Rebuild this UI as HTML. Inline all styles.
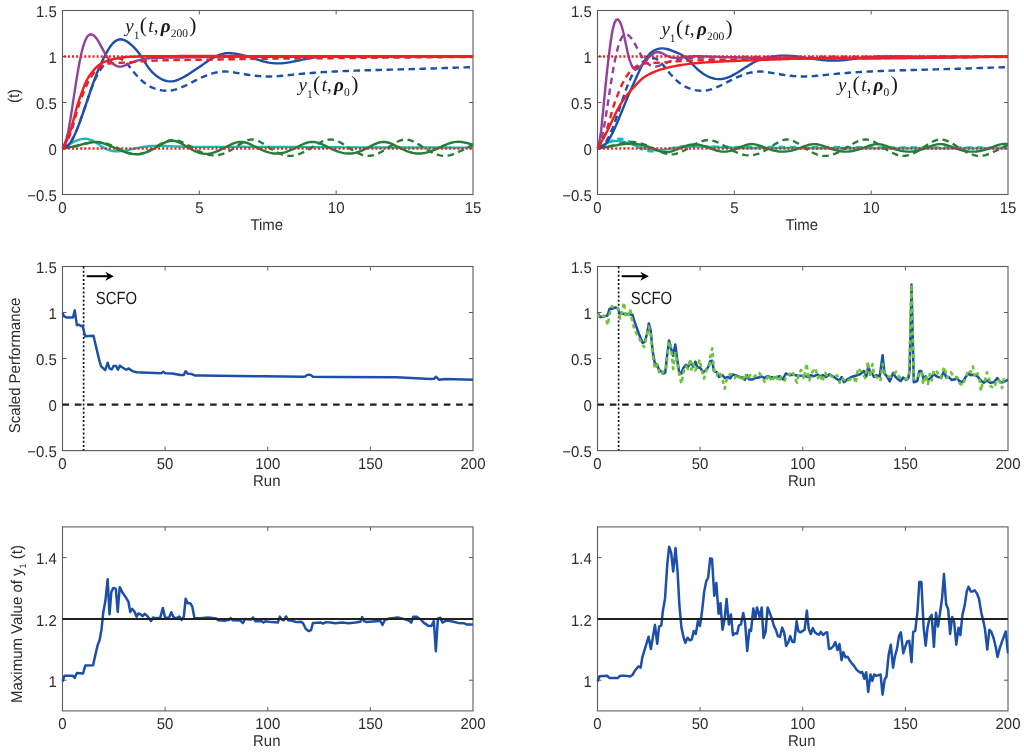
<!DOCTYPE html>
<html lang="en"><head><meta charset="utf-8"><title>Figure</title><style>html,body{margin:0;padding:0;background:#fff}svg{display:block;text-rendering:geometricPrecision}</style></head><body>
<svg width="1024" height="752" viewBox="0 0 1024 752" font-family="'Liberation Sans', sans-serif" font-size="15.6" fill="#332a2a">
<rect width="1024" height="752" fill="#fff"/>
<rect x="62.5" y="10.5" width="410.5" height="184.0" fill="none" stroke="#5e5a5a" stroke-width="1.1"/>
<path d="M199.33 194.5v-4M199.33 10.5v4M336.17 194.5v-4M336.17 10.5v4M62.5 148.50h4M473.0 148.50h-4M62.5 102.50h4M473.0 102.50h-4M62.5 56.50h4M473.0 56.50h-4" stroke="#5e5a5a" stroke-width="1" fill="none"/>
<text transform="translate(62.50 213.0) scale(0.96 1)" text-anchor="middle">0</text>
<text transform="translate(199.33 213.0) scale(0.96 1)" text-anchor="middle">5</text>
<text transform="translate(336.17 213.0) scale(0.96 1)" text-anchor="middle">10</text>
<text transform="translate(473.00 213.0) scale(0.96 1)" text-anchor="middle">15</text>
<text transform="translate(56.8 201.20) scale(0.96 1)" text-anchor="end">−0.5</text>
<text transform="translate(56.8 155.20) scale(0.96 1)" text-anchor="end">0</text>
<text transform="translate(56.8 109.20) scale(0.96 1)" text-anchor="end">0.5</text>
<text transform="translate(56.8 63.20) scale(0.96 1)" text-anchor="end">1</text>
<text transform="translate(56.8 17.20) scale(0.96 1)" text-anchor="end">1.5</text>
<text transform="translate(266.75 229.8) scale(0.96 1)" text-anchor="middle">Time</text>
<clipPath id="c00"><rect x="61.5" y="10.0" width="412.0" height="185.0"/></clipPath><g clip-path="url(#c00)">
<path d="M62.50 148.50 L64.37 147.32 L66.25 146.15 L68.12 145.01 L70.00 143.92 L71.87 142.88 L73.75 141.91 L75.62 141.03 L77.50 140.27 L79.37 139.63 L81.24 139.16 L83.12 138.86 L84.99 138.77 L86.87 138.91 L88.74 139.28 L90.62 139.86 L92.49 140.64 L94.37 141.59 L96.24 142.68 L98.11 143.91 L99.99 145.19 L101.86 146.47 L103.74 147.67 L105.61 148.72 L107.49 149.56 L109.36 150.22 L111.24 150.70 L113.11 151.03 L114.98 151.22 L116.86 151.28 L118.73 151.24 L120.61 151.12 L122.48 150.91 L124.36 150.65 L126.23 150.33 L128.11 149.97 L129.98 149.59 L131.85 149.18 L133.73 148.78 L135.60 148.38 L137.48 147.99 L139.35 147.63 L141.23 147.28 L143.10 146.97 L144.97 146.69 L146.85 146.44 L148.72 146.23 L150.60 146.07 L152.47 145.95 L154.35 145.87 L156.22 145.83 L158.10 145.82 L159.97 145.84 L161.84 145.88 L163.72 145.94 L165.59 146.01 L167.47 146.09 L169.34 146.17 L171.22 146.26 L173.09 146.34 L174.97 146.41 L176.84 146.48 L178.71 146.54 L180.59 146.60 L182.46 146.65 L184.34 146.69 L186.21 146.73 L188.09 146.76 L189.96 146.79 L191.84 146.82 L193.71 146.84 L195.58 146.86 L197.46 146.87 L199.33 146.88 L201.21 146.89 L203.08 146.90 L204.96 146.90 L206.83 146.90 L208.71 146.90 L210.58 146.90 L212.45 146.89 L214.33 146.89 L216.20 146.88 L218.08 146.88 L219.95 146.87 L221.83 146.86 L223.70 146.85 L225.58 146.85 L227.45 146.84 L229.32 146.84 L231.20 146.83 L233.07 146.83 L234.95 146.83 L236.82 146.82 L238.70 146.82 L240.57 146.82 L242.45 146.82 L244.32 146.82 L246.19 146.83 L248.07 146.83 L249.94 146.83 L251.82 146.83 L253.69 146.84 L255.57 146.84 L257.44 146.85 L259.32 146.85 L261.19 146.86 L263.06 146.87 L264.94 146.87 L266.81 146.88 L268.69 146.89 L270.56 146.90 L272.44 146.91 L274.31 146.92 L276.18 146.93 L278.06 146.94 L279.93 146.95 L281.81 146.96 L283.68 146.97 L285.56 146.98 L287.43 146.99 L289.31 147.00 L291.18 147.01 L293.05 147.02 L294.93 147.04 L296.80 147.05 L298.68 147.06 L300.55 147.07 L302.43 147.09 L304.30 147.10 L306.18 147.11 L308.05 147.12 L309.92 147.14 L311.80 147.15 L313.67 147.16 L315.55 147.17 L317.42 147.19 L319.30 147.20 L321.17 147.21 L323.05 147.22 L324.92 147.24 L326.79 147.25 L328.67 147.26 L330.54 147.27 L332.42 147.28 L334.29 147.29 L336.17 147.30 L338.04 147.31 L339.92 147.32 L341.79 147.33 L343.66 147.34 L345.54 147.35 L347.41 147.36 L349.29 147.37 L351.16 147.38 L353.04 147.39 L354.91 147.40 L356.79 147.40 L358.66 147.41 L360.53 147.42 L362.41 147.43 L364.28 147.43 L366.16 147.44 L368.03 147.45 L369.91 147.45 L371.78 147.46 L373.66 147.47 L375.53 147.47 L377.40 147.48 L379.28 147.48 L381.15 147.49 L383.03 147.49 L384.90 147.50 L386.78 147.50 L388.65 147.51 L390.53 147.51 L392.40 147.51 L394.27 147.52 L396.15 147.52 L398.02 147.52 L399.90 147.53 L401.77 147.53 L403.65 147.53 L405.52 147.54 L407.39 147.54 L409.27 147.54 L411.14 147.54 L413.02 147.55 L414.89 147.55 L416.77 147.55 L418.64 147.55 L420.52 147.56 L422.39 147.56 L424.26 147.56 L426.14 147.56 L428.01 147.56 L429.89 147.56 L431.76 147.57 L433.64 147.57 L435.51 147.57 L437.39 147.57 L439.26 147.57 L441.13 147.57 L443.01 147.57 L444.88 147.57 L446.76 147.57 L448.63 147.57 L450.51 147.57 L452.38 147.58 L454.26 147.58 L456.13 147.58 L458.00 147.58 L459.88 147.58 L461.75 147.58 L463.63 147.58 L465.50 147.58 L467.38 147.58 L469.25 147.58 L471.13 147.58 L473.00 147.58" fill="none" stroke="#1bb9b9" stroke-width="2.4" stroke-linejoin="round"/>
<path d="M62.50 148.50 L64.37 148.18 L66.25 147.86 L68.12 147.53 L70.00 147.19 L71.87 146.83 L73.75 146.45 L75.62 146.05 L77.50 145.62 L79.37 145.17 L81.24 144.68 L83.12 144.19 L84.99 143.70 L86.87 143.25 L88.74 142.85 L90.62 142.51 L92.49 142.26 L94.37 142.13 L96.24 142.12 L98.11 142.26 L99.99 142.54 L101.86 142.95 L103.74 143.48 L105.61 144.09 L107.49 144.79 L109.36 145.55 L111.24 146.35 L113.11 147.18 L114.98 148.02 L116.86 148.86 L118.73 149.67 L120.61 150.46 L122.48 151.20 L124.36 151.89 L126.23 152.51 L128.11 153.06 L129.98 153.51 L131.85 153.86 L133.73 154.09 L135.60 154.20 L137.48 154.17 L139.35 154.00 L141.23 153.70 L143.10 153.28 L144.97 152.73 L146.85 152.08 L148.72 151.32 L150.60 150.46 L152.47 149.52 L154.35 148.50 L156.22 147.41 L158.10 146.28 L159.97 145.16 L161.84 144.08 L163.72 143.09 L165.59 142.21 L167.47 141.50 L169.34 140.99 L171.22 140.72 L173.09 140.72 L174.97 140.99 L176.84 141.51 L178.71 142.22 L180.59 143.10 L182.46 144.09 L184.34 145.17 L186.21 146.30 L188.09 147.44 L189.96 148.54 L191.84 149.58 L193.71 150.54 L195.58 151.40 L197.46 152.16 L199.33 152.79 L201.21 153.28 L203.08 153.63 L204.96 153.82 L206.83 153.83 L208.71 153.68 L210.58 153.37 L212.45 152.92 L214.33 152.36 L216.20 151.68 L218.08 150.92 L219.95 150.07 L221.83 149.17 L223.70 148.21 L225.58 147.23 L227.45 146.25 L229.32 145.30 L231.20 144.40 L233.07 143.60 L234.95 142.92 L236.82 142.38 L238.70 142.03 L240.57 141.88 L242.45 141.96 L244.32 142.26 L246.19 142.75 L248.07 143.39 L249.94 144.16 L251.82 145.02 L253.69 145.95 L255.57 146.90 L257.44 147.86 L259.32 148.79 L261.19 149.67 L263.06 150.48 L264.94 151.22 L266.81 151.87 L268.69 152.43 L270.56 152.89 L272.44 153.24 L274.31 153.47 L276.18 153.56 L278.06 153.51 L279.93 153.33 L281.81 153.02 L283.68 152.59 L285.56 152.07 L287.43 151.44 L289.31 150.73 L291.18 149.95 L293.05 149.09 L294.93 148.19 L296.80 147.24 L298.68 146.29 L300.55 145.36 L302.43 144.48 L304.30 143.68 L306.18 142.99 L308.05 142.44 L309.92 142.06 L311.80 141.88 L313.67 141.93 L315.55 142.19 L317.42 142.63 L319.30 143.22 L321.17 143.94 L323.05 144.75 L324.92 145.64 L326.79 146.57 L328.67 147.51 L330.54 148.43 L332.42 149.31 L334.29 150.13 L336.17 150.89 L338.04 151.58 L339.92 152.18 L341.79 152.68 L343.66 153.08 L345.54 153.37 L347.41 153.53 L349.29 153.56 L351.16 153.44 L353.04 153.20 L354.91 152.83 L356.79 152.35 L358.66 151.76 L360.53 151.08 L362.41 150.32 L364.28 149.47 L366.16 148.56 L368.03 147.59 L369.91 146.59 L371.78 145.61 L373.66 144.67 L375.53 143.81 L377.40 143.07 L379.28 142.48 L381.15 142.07 L383.03 141.88 L384.90 141.94 L386.78 142.24 L388.65 142.72 L390.53 143.38 L392.40 144.16 L394.27 145.04 L396.15 145.98 L398.02 146.96 L399.90 147.93 L401.77 148.87 L403.65 149.74 L405.52 150.55 L407.39 151.28 L409.27 151.93 L411.14 152.48 L413.02 152.93 L414.89 153.26 L416.77 153.47 L418.64 153.56 L420.52 153.51 L422.39 153.33 L424.26 153.03 L426.14 152.62 L428.01 152.11 L429.89 151.52 L431.76 150.86 L433.64 150.13 L435.51 149.34 L437.39 148.52 L439.26 147.66 L441.13 146.79 L443.01 145.93 L444.88 145.10 L446.76 144.32 L448.63 143.60 L450.51 142.98 L452.38 142.46 L454.26 142.08 L456.13 141.84 L458.00 141.76 L459.88 141.83 L461.75 142.02 L463.63 142.32 L465.50 142.72 L467.38 143.18 L469.25 143.70 L471.13 144.25 L473.00 144.82" fill="none" stroke="#267d37" stroke-width="2.4" stroke-linejoin="round"/>
<path d="M62.50 148.50 L64.37 148.17 L66.25 147.84 L68.12 147.50 L70.00 147.15 L71.87 146.79 L73.75 146.42 L75.62 146.03 L77.50 145.61 L79.37 145.17 L81.24 144.71 L83.12 144.24 L84.99 143.78 L86.87 143.35 L88.74 142.95 L90.62 142.60 L92.49 142.33 L94.37 142.13 L96.24 142.04 L98.11 142.06 L99.99 142.21 L101.86 142.47 L103.74 142.85 L105.61 143.32 L107.49 143.89 L109.36 144.53 L111.24 145.24 L113.11 146.01 L114.98 146.82 L116.86 147.68 L118.73 148.56 L120.61 149.46 L122.48 150.35 L124.36 151.21 L126.23 152.02 L128.11 152.75 L129.98 153.37 L131.85 153.86 L133.73 154.21 L135.60 154.38 L137.48 154.35 L139.35 154.12 L141.23 153.71 L143.10 153.15 L144.97 152.45 L146.85 151.64 L148.72 150.72 L150.60 149.74 L152.47 148.69 L154.35 147.61 L156.22 146.52 L158.10 145.44 L159.97 144.40 L161.84 143.41 L163.72 142.51 L165.59 141.71 L167.47 141.04 L169.34 140.52 L171.22 140.18 L173.09 140.04 L174.97 140.11 L176.84 140.40 L178.71 140.88 L180.59 141.51 L182.46 142.29 L184.34 143.17 L186.21 144.14 L188.09 145.18 L189.96 146.25 L191.84 147.34 L193.71 148.42 L195.58 149.46 L197.46 150.45 L199.33 151.38 L201.21 152.24 L203.08 153.02 L204.96 153.71 L206.83 154.30 L208.71 154.77 L210.58 155.12 L212.45 155.33 L214.33 155.40 L216.20 155.31 L218.08 155.08 L219.95 154.70 L221.83 154.19 L223.70 153.55 L225.58 152.80 L227.45 151.94 L229.32 150.98 L231.20 149.93 L233.07 148.80 L234.95 147.59 L236.82 146.34 L238.70 145.08 L240.57 143.86 L242.45 142.72 L244.32 141.69 L246.19 140.81 L248.07 140.12 L249.94 139.67 L251.82 139.48 L253.69 139.60 L255.57 139.99 L257.44 140.62 L259.32 141.45 L261.19 142.44 L263.06 143.56 L264.94 144.77 L266.81 146.03 L268.69 147.30 L270.56 148.55 L272.44 149.74 L274.31 150.86 L276.18 151.90 L278.06 152.85 L279.93 153.69 L281.81 154.41 L283.68 155.00 L285.56 155.45 L287.43 155.75 L289.31 155.88 L291.18 155.84 L293.05 155.65 L294.93 155.31 L296.80 154.83 L298.68 154.23 L300.55 153.51 L302.43 152.69 L304.30 151.79 L306.18 150.80 L308.05 149.75 L309.92 148.65 L311.80 147.50 L313.67 146.33 L315.55 145.17 L317.42 144.05 L319.30 142.99 L321.17 142.02 L323.05 141.16 L324.92 140.45 L326.79 139.92 L328.67 139.58 L330.54 139.46 L332.42 139.60 L334.29 139.98 L336.17 140.57 L338.04 141.35 L339.92 142.28 L341.79 143.33 L343.66 144.47 L345.54 145.67 L347.41 146.90 L349.29 148.14 L351.16 149.34 L353.04 150.49 L354.91 151.57 L356.79 152.56 L358.66 153.46 L360.53 154.24 L362.41 154.88 L364.28 155.38 L366.16 155.71 L368.03 155.86 L369.91 155.81 L371.78 155.56 L373.66 155.14 L375.53 154.54 L377.40 153.81 L379.28 152.94 L381.15 151.96 L383.03 150.88 L384.90 149.73 L386.78 148.51 L388.65 147.26 L390.53 145.99 L392.40 144.75 L394.27 143.56 L396.15 142.46 L398.02 141.49 L399.90 140.67 L401.77 140.04 L403.65 139.63 L405.52 139.47 L407.39 139.59 L409.27 139.96 L411.14 140.53 L413.02 141.29 L414.89 142.20 L416.77 143.24 L418.64 144.36 L420.52 145.54 L422.39 146.75 L424.26 147.96 L426.14 149.14 L428.01 150.27 L429.89 151.32 L431.76 152.30 L433.64 153.19 L435.51 153.97 L437.39 154.64 L439.26 155.18 L441.13 155.58 L443.01 155.83 L444.88 155.91 L446.76 155.81 L448.63 155.53 L450.51 155.10 L452.38 154.52 L454.26 153.83 L456.13 153.05 L458.00 152.19 L459.88 151.27 L461.75 150.32 L463.63 149.37 L465.50 148.42 L467.38 147.49 L469.25 146.59 L471.13 145.70 L473.00 144.82" fill="none" stroke="#267d37" stroke-width="2.4" stroke-linejoin="round" stroke-dasharray="6.5 4.5"/>
<path d="M62.50 148.50 L64.37 147.92 L66.25 147.05 L68.12 145.60 L70.00 143.35 L71.87 140.36 L73.75 136.76 L75.62 132.64 L77.50 128.09 L79.37 123.20 L81.24 118.03 L83.12 112.67 L84.99 107.19 L86.87 101.66 L88.74 96.17 L90.62 90.83 L92.49 85.77 L94.37 81.09 L96.24 76.92 L98.11 73.32 L99.99 70.26 L101.86 67.67 L103.74 65.50 L105.61 63.69 L107.49 62.20 L109.36 60.98 L111.24 59.97 L113.11 59.14 L114.98 58.52 L116.86 58.19 L118.73 58.22 L120.61 58.69 L122.48 59.63 L124.36 61.01 L126.23 62.84 L128.11 65.01 L129.98 67.37 L131.85 69.76 L133.73 72.05 L135.60 74.24 L137.48 76.31 L139.35 78.26 L141.23 80.08 L143.10 81.74 L144.97 83.25 L146.85 84.60 L148.72 85.77 L150.60 86.79 L152.47 87.66 L154.35 88.40 L156.22 89.04 L158.10 89.57 L159.97 90.02 L161.84 90.39 L163.72 90.65 L165.59 90.80 L167.47 90.83 L169.34 90.72 L171.22 90.48 L173.09 90.13 L174.97 89.67 L176.84 89.11 L178.71 88.46 L180.59 87.73 L182.46 86.94 L184.34 86.10 L186.21 85.21 L188.09 84.28 L189.96 83.33 L191.84 82.37 L193.71 81.40 L195.58 80.43 L197.46 79.49 L199.33 78.57 L201.21 77.68 L203.08 76.84 L204.96 76.04 L206.83 75.30 L208.71 74.60 L210.58 73.97 L212.45 73.40 L214.33 72.90 L216.20 72.47 L218.08 72.12 L219.95 71.85 L221.83 71.66 L223.70 71.57 L225.58 71.57 L227.45 71.65 L229.32 71.80 L231.20 72.01 L233.07 72.27 L234.95 72.57 L236.82 72.89 L238.70 73.22 L240.57 73.55 L242.45 73.88 L244.32 74.20 L246.19 74.51 L248.07 74.80 L249.94 75.07 L251.82 75.33 L253.69 75.57 L255.57 75.78 L257.44 75.97 L259.32 76.14 L261.19 76.27 L263.06 76.38 L264.94 76.45 L266.81 76.48 L268.69 76.49 L270.56 76.46 L272.44 76.40 L274.31 76.32 L276.18 76.22 L278.06 76.09 L279.93 75.95 L281.81 75.79 L283.68 75.62 L285.56 75.43 L287.43 75.24 L289.31 75.05 L291.18 74.85 L293.05 74.65 L294.93 74.46 L296.80 74.27 L298.68 74.09 L300.55 73.91 L302.43 73.74 L304.30 73.57 L306.18 73.41 L308.05 73.25 L309.92 73.10 L311.80 72.95 L313.67 72.81 L315.55 72.67 L317.42 72.54 L319.30 72.41 L321.17 72.29 L323.05 72.17 L324.92 72.05 L326.79 71.94 L328.67 71.83 L330.54 71.72 L332.42 71.62 L334.29 71.53 L336.17 71.43 L338.04 71.34 L339.92 71.25 L341.79 71.17 L343.66 71.08 L345.54 71.01 L347.41 70.93 L349.29 70.85 L351.16 70.78 L353.04 70.71 L354.91 70.65 L356.79 70.58 L358.66 70.52 L360.53 70.46 L362.41 70.40 L364.28 70.34 L366.16 70.28 L368.03 70.23 L369.91 70.18 L371.78 70.12 L373.66 70.07 L375.53 70.02 L377.40 69.97 L379.28 69.93 L381.15 69.88 L383.03 69.83 L384.90 69.78 L386.78 69.74 L388.65 69.69 L390.53 69.64 L392.40 69.60 L394.27 69.55 L396.15 69.50 L398.02 69.46 L399.90 69.41 L401.77 69.36 L403.65 69.31 L405.52 69.26 L407.39 69.21 L409.27 69.16 L411.14 69.11 L413.02 69.06 L414.89 69.00 L416.77 68.95 L418.64 68.89 L420.52 68.84 L422.39 68.78 L424.26 68.72 L426.14 68.66 L428.01 68.60 L429.89 68.55 L431.76 68.49 L433.64 68.43 L435.51 68.36 L437.39 68.30 L439.26 68.24 L441.13 68.18 L443.01 68.12 L444.88 68.05 L446.76 67.99 L448.63 67.93 L450.51 67.86 L452.38 67.80 L454.26 67.73 L456.13 67.67 L458.00 67.60 L459.88 67.54 L461.75 67.47 L463.63 67.41 L465.50 67.34 L467.38 67.28 L469.25 67.21 L471.13 67.15 L473.00 67.08" fill="none" stroke="#1c50a8" stroke-width="2.4" stroke-linejoin="round" stroke-dasharray="6.5 4.5"/>
<path d="M62.50 148.50 L64.37 147.92 L66.25 147.05 L68.12 145.59 L70.00 143.34 L71.87 140.36 L73.75 136.75 L75.62 132.65 L77.50 128.13 L79.37 123.26 L81.24 118.11 L83.12 112.75 L84.99 107.24 L86.87 101.65 L88.74 96.04 L90.62 90.49 L92.49 85.08 L94.37 79.86 L96.24 74.91 L98.11 70.28 L99.99 65.95 L101.86 61.87 L103.74 58.02 L105.61 54.38 L107.49 50.96 L109.36 47.88 L111.24 45.20 L113.11 43.02 L114.98 41.36 L116.86 40.19 L118.73 39.51 L120.61 39.29 L122.48 39.52 L124.36 40.13 L126.23 41.08 L128.11 42.30 L129.98 43.75 L131.85 45.37 L133.73 47.13 L135.60 49.09 L137.48 51.26 L139.35 53.67 L141.23 56.36 L143.10 59.33 L144.97 62.39 L146.85 65.33 L148.72 67.97 L150.60 70.30 L152.47 72.35 L154.35 74.14 L156.22 75.71 L158.10 77.07 L159.97 78.26 L161.84 79.28 L163.72 80.11 L165.59 80.74 L167.47 81.18 L169.34 81.41 L171.22 81.42 L173.09 81.21 L174.97 80.81 L176.84 80.24 L178.71 79.52 L180.59 78.68 L182.46 77.73 L184.34 76.71 L186.21 75.63 L188.09 74.50 L189.96 73.32 L191.84 72.11 L193.71 70.87 L195.58 69.60 L197.46 68.31 L199.33 67.00 L201.21 65.69 L203.08 64.38 L204.96 63.08 L206.83 61.81 L208.71 60.57 L210.58 59.39 L212.45 58.27 L214.33 57.23 L216.20 56.28 L218.08 55.43 L219.95 54.69 L221.83 54.08 L223.70 53.60 L225.58 53.26 L227.45 53.08 L229.32 53.06 L231.20 53.18 L233.07 53.40 L234.95 53.70 L236.82 54.04 L238.70 54.41 L240.57 54.78 L242.45 55.18 L244.32 55.61 L246.19 56.07 L248.07 56.58 L249.94 57.14 L251.82 57.74 L253.69 58.36 L255.57 58.99 L257.44 59.61 L259.32 60.21 L261.19 60.79 L263.06 61.31 L264.94 61.79 L266.81 62.20 L268.69 62.56 L270.56 62.86 L272.44 63.09 L274.31 63.27 L276.18 63.37 L278.06 63.41 L279.93 63.38 L281.81 63.28 L283.68 63.13 L285.56 62.91 L287.43 62.65 L289.31 62.35 L291.18 62.01 L293.05 61.65 L294.93 61.27 L296.80 60.87 L298.68 60.46 L300.55 60.05 L302.43 59.65 L304.30 59.25 L306.18 58.87 L308.05 58.50 L309.92 58.16 L311.80 57.85 L313.67 57.57 L315.55 57.33 L317.42 57.13 L319.30 56.97 L321.17 56.84 L323.05 56.74 L324.92 56.66 L326.79 56.59 L328.67 56.54 L330.54 56.50 L332.42 56.47 L334.29 56.44 L336.17 56.41 L338.04 56.39 L339.92 56.37 L341.79 56.35 L343.66 56.34 L345.54 56.33 L347.41 56.32 L349.29 56.32 L351.16 56.31 L353.04 56.31 L354.91 56.31 L356.79 56.31 L358.66 56.31 L360.53 56.31 L362.41 56.31 L364.28 56.32 L366.16 56.32 L368.03 56.32 L369.91 56.33 L371.78 56.33 L373.66 56.33 L375.53 56.33 L377.40 56.34 L379.28 56.34 L381.15 56.34 L383.03 56.34 L384.90 56.35 L386.78 56.35 L388.65 56.35 L390.53 56.36 L392.40 56.36 L394.27 56.36 L396.15 56.37 L398.02 56.37 L399.90 56.37 L401.77 56.37 L403.65 56.38 L405.52 56.38 L407.39 56.38 L409.27 56.39 L411.14 56.39 L413.02 56.39 L414.89 56.40 L416.77 56.40 L418.64 56.40 L420.52 56.41 L422.39 56.41 L424.26 56.41 L426.14 56.42 L428.01 56.42 L429.89 56.42 L431.76 56.43 L433.64 56.43 L435.51 56.43 L437.39 56.44 L439.26 56.44 L441.13 56.44 L443.01 56.45 L444.88 56.45 L446.76 56.45 L448.63 56.46 L450.51 56.46 L452.38 56.46 L454.26 56.47 L456.13 56.47 L458.00 56.47 L459.88 56.48 L461.75 56.48 L463.63 56.48 L465.50 56.49 L467.38 56.49 L469.25 56.49 L471.13 56.50 L473.00 56.50" fill="none" stroke="#1c50a8" stroke-width="2.4" stroke-linejoin="round"/>
<path d="M62.50 148.50 L64.37 144.57 L66.25 139.44 L68.12 131.93 L70.00 121.74 L71.87 109.87 L73.75 97.40 L75.62 85.14 L77.50 73.53 L79.37 63.01 L81.24 54.00 L83.12 46.68 L84.99 41.12 L86.87 37.32 L88.74 35.09 L90.62 34.25 L92.49 34.60 L94.37 35.96 L96.24 38.13 L98.11 40.92 L99.99 44.15 L101.86 47.62 L103.74 51.13 L105.61 54.49 L107.49 57.50 L109.36 60.04 L111.24 62.15 L113.11 63.85 L114.98 65.15 L116.86 66.05 L118.73 66.54 L120.61 66.60 L122.48 66.25 L124.36 65.61 L126.23 64.82 L128.11 64.00 L129.98 63.24 L131.85 62.53 L133.73 61.87 L135.60 61.25 L137.48 60.68 L139.35 60.15 L141.23 59.66 L143.10 59.22 L144.97 58.84 L146.85 58.51 L148.72 58.26 L150.60 58.07 L152.47 57.93 L154.35 57.83 L156.22 57.77 L158.10 57.73 L159.97 57.71 L161.84 57.70 L163.72 57.69 L165.59 57.67 L167.47 57.65 L169.34 57.63 L171.22 57.61 L173.09 57.58 L174.97 57.55 L176.84 57.53 L178.71 57.49 L180.59 57.46 L182.46 57.43 L184.34 57.40 L186.21 57.36 L188.09 57.33 L189.96 57.30 L191.84 57.26 L193.71 57.23 L195.58 57.20 L197.46 57.17 L199.33 57.14 L201.21 57.12 L203.08 57.09 L204.96 57.07 L206.83 57.05 L208.71 57.03 L210.58 57.01 L212.45 57.00 L214.33 56.98 L216.20 56.97 L218.08 56.96 L219.95 56.95 L221.83 56.94 L223.70 56.93 L225.58 56.92 L227.45 56.91 L229.32 56.91 L231.20 56.90 L233.07 56.90 L234.95 56.89 L236.82 56.89 L238.70 56.89 L240.57 56.88 L242.45 56.88 L244.32 56.88 L246.19 56.88 L248.07 56.87 L249.94 56.87 L251.82 56.87 L253.69 56.87 L255.57 56.87 L257.44 56.86 L259.32 56.86 L261.19 56.86 L263.06 56.86 L264.94 56.85 L266.81 56.85 L268.69 56.85 L270.56 56.84 L272.44 56.84 L274.31 56.84 L276.18 56.83 L278.06 56.83 L279.93 56.82 L281.81 56.82 L283.68 56.82 L285.56 56.81 L287.43 56.81 L289.31 56.80 L291.18 56.80 L293.05 56.79 L294.93 56.79 L296.80 56.78 L298.68 56.78 L300.55 56.78 L302.43 56.77 L304.30 56.77 L306.18 56.76 L308.05 56.76 L309.92 56.75 L311.80 56.75 L313.67 56.74 L315.55 56.74 L317.42 56.73 L319.30 56.73 L321.17 56.72 L323.05 56.72 L324.92 56.71 L326.79 56.71 L328.67 56.70 L330.54 56.70 L332.42 56.69 L334.29 56.69 L336.17 56.68 L338.04 56.68 L339.92 56.68 L341.79 56.67 L343.66 56.67 L345.54 56.66 L347.41 56.66 L349.29 56.65 L351.16 56.65 L353.04 56.65 L354.91 56.64 L356.79 56.64 L358.66 56.64 L360.53 56.63 L362.41 56.63 L364.28 56.63 L366.16 56.62 L368.03 56.62 L369.91 56.62 L371.78 56.61 L373.66 56.61 L375.53 56.61 L377.40 56.60 L379.28 56.60 L381.15 56.60 L383.03 56.60 L384.90 56.59 L386.78 56.59 L388.65 56.59 L390.53 56.58 L392.40 56.58 L394.27 56.58 L396.15 56.58 L398.02 56.57 L399.90 56.57 L401.77 56.57 L403.65 56.57 L405.52 56.56 L407.39 56.56 L409.27 56.56 L411.14 56.56 L413.02 56.56 L414.89 56.55 L416.77 56.55 L418.64 56.55 L420.52 56.55 L422.39 56.55 L424.26 56.54 L426.14 56.54 L428.01 56.54 L429.89 56.54 L431.76 56.54 L433.64 56.53 L435.51 56.53 L437.39 56.53 L439.26 56.53 L441.13 56.53 L443.01 56.53 L444.88 56.52 L446.76 56.52 L448.63 56.52 L450.51 56.52 L452.38 56.52 L454.26 56.52 L456.13 56.51 L458.00 56.51 L459.88 56.51 L461.75 56.51 L463.63 56.51 L465.50 56.51 L467.38 56.50 L469.25 56.50 L471.13 56.50 L473.00 56.50" fill="none" stroke="#93409a" stroke-width="2.4" stroke-linejoin="round"/>
<path d="M62.50 148.50 L64.37 145.93 L66.25 142.73 L68.12 138.99 L70.00 134.81 L71.87 129.56 L73.75 123.15 L75.62 116.23 L77.50 109.47 L79.37 103.52 L81.24 98.51 L83.12 93.68 L84.99 89.07 L86.87 84.79 L88.74 80.94 L90.62 77.60 L92.49 74.83 L94.37 72.40 L96.24 70.27 L98.11 68.52 L99.99 67.19 L101.86 66.05 L103.74 65.04 L105.61 64.25 L107.49 63.75 L109.36 63.50 L111.24 63.32 L113.11 63.18 L114.98 63.07 L116.86 62.96 L118.73 62.86 L120.61 62.78 L122.48 62.70 L124.36 62.63 L126.23 62.54 L128.11 62.43 L129.98 62.28 L131.85 62.11 L133.73 61.93 L135.60 61.75 L137.48 61.60 L139.35 61.47 L141.23 61.36 L143.10 61.24 L144.97 61.13 L146.85 61.02 L148.72 60.92 L150.60 60.82 L152.47 60.73 L154.35 60.64 L156.22 60.57 L158.10 60.50 L159.97 60.43 L161.84 60.38 L163.72 60.33 L165.59 60.29 L167.47 60.25 L169.34 60.21 L171.22 60.17 L173.09 60.14 L174.97 60.10 L176.84 60.07 L178.71 60.04 L180.59 60.01 L182.46 59.99 L184.34 59.96 L186.21 59.94 L188.09 59.91 L189.96 59.89 L191.84 59.87 L193.71 59.84 L195.58 59.82 L197.46 59.79 L199.33 59.77 L201.21 59.75 L203.08 59.72 L204.96 59.69 L206.83 59.67 L208.71 59.64 L210.58 59.61 L212.45 59.58 L214.33 59.55 L216.20 59.52 L218.08 59.49 L219.95 59.46 L221.83 59.42 L223.70 59.39 L225.58 59.36 L227.45 59.33 L229.32 59.29 L231.20 59.26 L233.07 59.23 L234.95 59.19 L236.82 59.16 L238.70 59.13 L240.57 59.10 L242.45 59.07 L244.32 59.04 L246.19 59.01 L248.07 58.98 L249.94 58.95 L251.82 58.92 L253.69 58.89 L255.57 58.86 L257.44 58.84 L259.32 58.81 L261.19 58.79 L263.06 58.76 L264.94 58.74 L266.81 58.72 L268.69 58.70 L270.56 58.68 L272.44 58.66 L274.31 58.64 L276.18 58.62 L278.06 58.61 L279.93 58.59 L281.81 58.57 L283.68 58.56 L285.56 58.54 L287.43 58.53 L289.31 58.51 L291.18 58.50 L293.05 58.48 L294.93 58.47 L296.80 58.45 L298.68 58.44 L300.55 58.43 L302.43 58.41 L304.30 58.40 L306.18 58.39 L308.05 58.37 L309.92 58.36 L311.80 58.35 L313.67 58.33 L315.55 58.32 L317.42 58.31 L319.30 58.29 L321.17 58.28 L323.05 58.26 L324.92 58.25 L326.79 58.24 L328.67 58.22 L330.54 58.20 L332.42 58.19 L334.29 58.17 L336.17 58.16 L338.04 58.14 L339.92 58.12 L341.79 58.10 L343.66 58.09 L345.54 58.07 L347.41 58.05 L349.29 58.03 L351.16 58.01 L353.04 57.99 L354.91 57.97 L356.79 57.95 L358.66 57.93 L360.53 57.91 L362.41 57.89 L364.28 57.87 L366.16 57.85 L368.03 57.83 L369.91 57.81 L371.78 57.79 L373.66 57.77 L375.53 57.75 L377.40 57.73 L379.28 57.71 L381.15 57.70 L383.03 57.68 L384.90 57.66 L386.78 57.64 L388.65 57.62 L390.53 57.61 L392.40 57.59 L394.27 57.57 L396.15 57.56 L398.02 57.54 L399.90 57.52 L401.77 57.51 L403.65 57.49 L405.52 57.48 L407.39 57.46 L409.27 57.44 L411.14 57.43 L413.02 57.41 L414.89 57.40 L416.77 57.38 L418.64 57.37 L420.52 57.35 L422.39 57.33 L424.26 57.32 L426.14 57.30 L428.01 57.29 L429.89 57.27 L431.76 57.26 L433.64 57.24 L435.51 57.23 L437.39 57.21 L439.26 57.20 L441.13 57.19 L443.01 57.17 L444.88 57.16 L446.76 57.14 L448.63 57.13 L450.51 57.12 L452.38 57.10 L454.26 57.09 L456.13 57.08 L458.00 57.06 L459.88 57.05 L461.75 57.04 L463.63 57.02 L465.50 57.01 L467.38 57.00 L469.25 56.98 L471.13 56.97 L473.00 56.96" fill="none" stroke="#ed2024" stroke-width="2.4" stroke-linejoin="round" stroke-dasharray="6.5 4.5"/>
<path d="M62.50 148.50 L64.37 145.42 L66.25 141.65 L68.12 137.32 L70.00 132.42 L71.87 126.15 L73.75 118.92 L75.62 111.54 L77.50 104.77 L79.37 99.15 L81.24 93.79 L83.12 88.70 L84.99 84.05 L86.87 80.02 L88.74 76.78 L90.62 74.12 L92.49 71.66 L94.37 69.43 L96.24 67.44 L98.11 65.71 L99.99 64.26 L101.86 63.10 L103.74 62.19 L105.61 61.39 L107.49 60.68 L109.36 60.07 L111.24 59.54 L113.11 59.09 L114.98 58.71 L116.86 58.36 L118.73 58.04 L120.61 57.75 L122.48 57.49 L124.36 57.27 L126.23 57.10 L128.11 56.96 L129.98 56.86 L131.85 56.77 L133.73 56.68 L135.60 56.59 L137.48 56.52 L139.35 56.45 L141.23 56.39 L143.10 56.34 L144.97 56.30 L146.85 56.26 L148.72 56.24 L150.60 56.22 L152.47 56.21 L154.35 56.19 L156.22 56.18 L158.10 56.17 L159.97 56.16 L161.84 56.15 L163.72 56.14 L165.59 56.13 L167.47 56.12 L169.34 56.11 L171.22 56.10 L173.09 56.09 L174.97 56.08 L176.84 56.08 L178.71 56.07 L180.59 56.07 L182.46 56.06 L184.34 56.06 L186.21 56.05 L188.09 56.05 L189.96 56.05 L191.84 56.04 L193.71 56.04 L195.58 56.04 L197.46 56.04 L199.33 56.04 L201.21 56.04 L203.08 56.04 L204.96 56.04 L206.83 56.04 L208.71 56.04 L210.58 56.04 L212.45 56.04 L214.33 56.04 L216.20 56.04 L218.08 56.05 L219.95 56.05 L221.83 56.05 L223.70 56.05 L225.58 56.05 L227.45 56.05 L229.32 56.05 L231.20 56.06 L233.07 56.06 L234.95 56.06 L236.82 56.06 L238.70 56.06 L240.57 56.07 L242.45 56.07 L244.32 56.07 L246.19 56.07 L248.07 56.08 L249.94 56.08 L251.82 56.08 L253.69 56.08 L255.57 56.09 L257.44 56.09 L259.32 56.09 L261.19 56.09 L263.06 56.10 L264.94 56.10 L266.81 56.10 L268.69 56.11 L270.56 56.11 L272.44 56.11 L274.31 56.12 L276.18 56.12 L278.06 56.12 L279.93 56.12 L281.81 56.13 L283.68 56.13 L285.56 56.13 L287.43 56.14 L289.31 56.14 L291.18 56.14 L293.05 56.15 L294.93 56.15 L296.80 56.15 L298.68 56.16 L300.55 56.16 L302.43 56.17 L304.30 56.17 L306.18 56.17 L308.05 56.18 L309.92 56.18 L311.80 56.18 L313.67 56.19 L315.55 56.19 L317.42 56.19 L319.30 56.20 L321.17 56.20 L323.05 56.20 L324.92 56.21 L326.79 56.21 L328.67 56.21 L330.54 56.21 L332.42 56.22 L334.29 56.22 L336.17 56.22 L338.04 56.23 L339.92 56.23 L341.79 56.23 L343.66 56.24 L345.54 56.24 L347.41 56.24 L349.29 56.25 L351.16 56.25 L353.04 56.25 L354.91 56.26 L356.79 56.26 L358.66 56.26 L360.53 56.27 L362.41 56.27 L364.28 56.27 L366.16 56.28 L368.03 56.28 L369.91 56.28 L371.78 56.29 L373.66 56.29 L375.53 56.29 L377.40 56.30 L379.28 56.30 L381.15 56.30 L383.03 56.31 L384.90 56.31 L386.78 56.31 L388.65 56.32 L390.53 56.32 L392.40 56.32 L394.27 56.33 L396.15 56.33 L398.02 56.34 L399.90 56.34 L401.77 56.34 L403.65 56.35 L405.52 56.35 L407.39 56.36 L409.27 56.36 L411.14 56.36 L413.02 56.37 L414.89 56.37 L416.77 56.37 L418.64 56.38 L420.52 56.38 L422.39 56.39 L424.26 56.39 L426.14 56.39 L428.01 56.40 L429.89 56.40 L431.76 56.41 L433.64 56.41 L435.51 56.41 L437.39 56.42 L439.26 56.42 L441.13 56.43 L443.01 56.43 L444.88 56.44 L446.76 56.44 L448.63 56.44 L450.51 56.45 L452.38 56.45 L454.26 56.46 L456.13 56.46 L458.00 56.47 L459.88 56.47 L461.75 56.47 L463.63 56.48 L465.50 56.48 L467.38 56.49 L469.25 56.49 L471.13 56.50 L473.00 56.50" fill="none" stroke="#ed2024" stroke-width="2.4" stroke-linejoin="round"/>
<path d="M62.50 56.50 L473.00 56.50" fill="none" stroke="#ed2024" stroke-width="2.4" stroke-linejoin="round" stroke-dasharray="2 2.1" stroke-dashoffset="-1.3"/>
<path d="M62.50 148.50 L473.00 148.50" fill="none" stroke="#ed2024" stroke-width="2.4" stroke-linejoin="round" stroke-dasharray="2 2.1" stroke-dashoffset="-1.3"/>
</g>
<rect x="597.5" y="10.5" width="410.5" height="184.0" fill="none" stroke="#5e5a5a" stroke-width="1.1"/>
<path d="M734.33 194.5v-4M734.33 10.5v4M871.17 194.5v-4M871.17 10.5v4M597.5 148.50h4M1008.0 148.50h-4M597.5 102.50h4M1008.0 102.50h-4M597.5 56.50h4M1008.0 56.50h-4" stroke="#5e5a5a" stroke-width="1" fill="none"/>
<text transform="translate(597.50 213.0) scale(0.96 1)" text-anchor="middle">0</text>
<text transform="translate(734.33 213.0) scale(0.96 1)" text-anchor="middle">5</text>
<text transform="translate(871.17 213.0) scale(0.96 1)" text-anchor="middle">10</text>
<text transform="translate(1008.00 213.0) scale(0.96 1)" text-anchor="middle">15</text>
<text transform="translate(591.8 201.20) scale(0.96 1)" text-anchor="end">−0.5</text>
<text transform="translate(591.8 155.20) scale(0.96 1)" text-anchor="end">0</text>
<text transform="translate(591.8 109.20) scale(0.96 1)" text-anchor="end">0.5</text>
<text transform="translate(591.8 63.20) scale(0.96 1)" text-anchor="end">1</text>
<text transform="translate(591.8 17.20) scale(0.96 1)" text-anchor="end">1.5</text>
<text transform="translate(801.75 229.8) scale(0.96 1)" text-anchor="middle">Time</text>
<clipPath id="c01"><rect x="596.5" y="10.0" width="412.0" height="185.0"/></clipPath><g clip-path="url(#c01)">
<path d="M597.50 148.50 L599.37 147.29 L601.25 146.11 L603.12 144.99 L605.00 143.97 L606.87 143.07 L608.75 142.32 L610.62 141.73 L612.50 141.29 L614.37 141.01 L616.24 140.89 L618.12 140.92 L619.99 141.11 L621.87 141.43 L623.74 141.86 L625.62 142.38 L627.49 142.96 L629.37 143.58 L631.24 144.20 L633.11 144.82 L634.99 145.43 L636.86 146.03 L638.74 146.62 L640.61 147.18 L642.49 147.72 L644.36 148.23 L646.24 148.71 L648.11 149.15 L649.98 149.54 L651.86 149.87 L653.73 150.12 L655.61 150.28 L657.48 150.34 L659.36 150.29 L661.23 150.15 L663.11 149.92 L664.98 149.64 L666.85 149.32 L668.73 148.98 L670.60 148.64 L672.48 148.32 L674.35 148.02 L676.23 147.75 L678.10 147.50 L679.97 147.28 L681.85 147.09 L683.72 146.93 L685.60 146.79 L687.47 146.68 L689.35 146.59 L691.22 146.53 L693.10 146.50 L694.97 146.48 L696.84 146.48 L698.72 146.50 L700.59 146.54 L702.47 146.59 L704.34 146.65 L706.22 146.73 L708.09 146.80 L709.97 146.89 L711.84 146.98 L713.71 147.07 L715.59 147.16 L717.46 147.25 L719.34 147.34 L721.21 147.42 L723.09 147.49 L724.96 147.56 L726.84 147.62 L728.71 147.68 L730.58 147.73 L732.46 147.77 L734.33 147.81 L736.21 147.85 L738.08 147.88 L739.96 147.91 L741.83 147.93 L743.71 147.95 L745.58 147.97 L747.45 147.98 L749.33 147.99 L751.20 148.00 L753.08 148.01 L754.95 148.02 L756.83 148.03 L758.70 148.03 L760.58 148.04 L762.45 148.04 L764.32 148.05 L766.20 148.05 L768.07 148.06 L769.95 148.06 L771.82 148.07 L773.70 148.08 L775.57 148.08 L777.45 148.09 L779.32 148.10 L781.19 148.10 L783.07 148.11 L784.94 148.12 L786.82 148.12 L788.69 148.13 L790.57 148.14 L792.44 148.14 L794.32 148.15 L796.19 148.16 L798.06 148.16 L799.94 148.17 L801.81 148.18 L803.69 148.18 L805.56 148.19 L807.44 148.19 L809.31 148.20 L811.18 148.21 L813.06 148.21 L814.93 148.22 L816.81 148.23 L818.68 148.23 L820.56 148.24 L822.43 148.24 L824.31 148.25 L826.18 148.25 L828.05 148.26 L829.93 148.26 L831.80 148.27 L833.68 148.27 L835.55 148.28 L837.43 148.28 L839.30 148.28 L841.18 148.29 L843.05 148.29 L844.92 148.30 L846.80 148.30 L848.67 148.30 L850.55 148.31 L852.42 148.31 L854.30 148.31 L856.17 148.32 L858.05 148.32 L859.92 148.32 L861.79 148.32 L863.67 148.33 L865.54 148.33 L867.42 148.33 L869.29 148.33 L871.17 148.34 L873.04 148.34 L874.92 148.34 L876.79 148.34 L878.66 148.34 L880.54 148.35 L882.41 148.35 L884.29 148.35 L886.16 148.35 L888.04 148.35 L889.91 148.35 L891.79 148.36 L893.66 148.36 L895.53 148.36 L897.41 148.36 L899.28 148.36 L901.16 148.36 L903.03 148.36 L904.91 148.36 L906.78 148.36 L908.66 148.36 L910.53 148.36 L912.40 148.36 L914.28 148.36 L916.15 148.36 L918.03 148.36 L919.90 148.36 L921.78 148.36 L923.65 148.36 L925.53 148.36 L927.40 148.36 L929.27 148.36 L931.15 148.36 L933.02 148.36 L934.90 148.36 L936.77 148.36 L938.65 148.36 L940.52 148.36 L942.39 148.36 L944.27 148.36 L946.14 148.36 L948.02 148.36 L949.89 148.36 L951.77 148.36 L953.64 148.35 L955.52 148.35 L957.39 148.35 L959.26 148.35 L961.14 148.35 L963.01 148.35 L964.89 148.35 L966.76 148.35 L968.64 148.35 L970.51 148.34 L972.39 148.34 L974.26 148.34 L976.13 148.34 L978.01 148.34 L979.88 148.34 L981.76 148.34 L983.63 148.34 L985.51 148.33 L987.38 148.33 L989.26 148.33 L991.13 148.33 L993.00 148.33 L994.88 148.33 L996.75 148.33 L998.63 148.32 L1000.50 148.32 L1002.38 148.32 L1004.25 148.32 L1006.13 148.32 L1008.00 148.32" fill="none" stroke="#1bb9b9" stroke-width="2.4" stroke-linejoin="round"/>
<path d="M597.50 148.50 L599.37 147.32 L601.25 146.15 L603.12 145.01 L605.00 143.92 L606.87 142.88 L608.75 141.91 L610.62 141.03 L612.50 140.27 L614.37 139.63 L616.24 139.16 L618.12 138.86 L619.99 138.77 L621.87 138.91 L623.74 139.28 L625.62 139.86 L627.49 140.64 L629.37 141.59 L631.24 142.68 L633.11 143.91 L634.99 145.19 L636.86 146.47 L638.74 147.67 L640.61 148.72 L642.49 149.56 L644.36 150.22 L646.24 150.70 L648.11 151.03 L649.98 151.22 L651.86 151.28 L653.73 151.24 L655.61 151.12 L657.48 150.91 L659.36 150.65 L661.23 150.33 L663.11 149.97 L664.98 149.59 L666.85 149.18 L668.73 148.78 L670.60 148.38 L672.48 147.99 L674.35 147.63 L676.23 147.28 L678.10 146.97 L679.97 146.69 L681.85 146.44 L683.72 146.23 L685.60 146.07 L687.47 145.95 L689.35 145.87 L691.22 145.83 L693.10 145.82 L694.97 145.84 L696.84 145.88 L698.72 145.94 L700.59 146.01 L702.47 146.09 L704.34 146.17 L706.22 146.26 L708.09 146.34 L709.97 146.41 L711.84 146.48 L713.71 146.54 L715.59 146.60 L717.46 146.65 L719.34 146.69 L721.21 146.73 L723.09 146.76 L724.96 146.79 L726.84 146.82 L728.71 146.84 L730.58 146.86 L732.46 146.87 L734.33 146.88 L736.21 146.89 L738.08 146.90 L739.96 146.90 L741.83 146.90 L743.71 146.90 L745.58 146.90 L747.45 146.89 L749.33 146.89 L751.20 146.88 L753.08 146.88 L754.95 146.87 L756.83 146.86 L758.70 146.85 L760.58 146.85 L762.45 146.84 L764.32 146.84 L766.20 146.83 L768.07 146.83 L769.95 146.83 L771.82 146.82 L773.70 146.82 L775.57 146.82 L777.45 146.82 L779.32 146.82 L781.19 146.83 L783.07 146.83 L784.94 146.83 L786.82 146.83 L788.69 146.84 L790.57 146.84 L792.44 146.85 L794.32 146.85 L796.19 146.86 L798.06 146.87 L799.94 146.87 L801.81 146.88 L803.69 146.89 L805.56 146.90 L807.44 146.91 L809.31 146.92 L811.18 146.93 L813.06 146.94 L814.93 146.95 L816.81 146.96 L818.68 146.97 L820.56 146.98 L822.43 146.99 L824.31 147.00 L826.18 147.01 L828.05 147.02 L829.93 147.04 L831.80 147.05 L833.68 147.06 L835.55 147.07 L837.43 147.09 L839.30 147.10 L841.18 147.11 L843.05 147.12 L844.92 147.14 L846.80 147.15 L848.67 147.16 L850.55 147.17 L852.42 147.19 L854.30 147.20 L856.17 147.21 L858.05 147.22 L859.92 147.24 L861.79 147.25 L863.67 147.26 L865.54 147.27 L867.42 147.28 L869.29 147.29 L871.17 147.30 L873.04 147.31 L874.92 147.32 L876.79 147.33 L878.66 147.34 L880.54 147.35 L882.41 147.36 L884.29 147.37 L886.16 147.38 L888.04 147.39 L889.91 147.40 L891.79 147.40 L893.66 147.41 L895.53 147.42 L897.41 147.43 L899.28 147.43 L901.16 147.44 L903.03 147.45 L904.91 147.45 L906.78 147.46 L908.66 147.47 L910.53 147.47 L912.40 147.48 L914.28 147.48 L916.15 147.49 L918.03 147.49 L919.90 147.50 L921.78 147.50 L923.65 147.51 L925.53 147.51 L927.40 147.51 L929.27 147.52 L931.15 147.52 L933.02 147.52 L934.90 147.53 L936.77 147.53 L938.65 147.53 L940.52 147.54 L942.39 147.54 L944.27 147.54 L946.14 147.54 L948.02 147.55 L949.89 147.55 L951.77 147.55 L953.64 147.55 L955.52 147.56 L957.39 147.56 L959.26 147.56 L961.14 147.56 L963.01 147.56 L964.89 147.56 L966.76 147.57 L968.64 147.57 L970.51 147.57 L972.39 147.57 L974.26 147.57 L976.13 147.57 L978.01 147.57 L979.88 147.57 L981.76 147.57 L983.63 147.57 L985.51 147.57 L987.38 147.58 L989.26 147.58 L991.13 147.58 L993.00 147.58 L994.88 147.58 L996.75 147.58 L998.63 147.58 L1000.50 147.58 L1002.38 147.58 L1004.25 147.58 L1006.13 147.58 L1008.00 147.58" fill="none" stroke="#1bb9b9" stroke-width="2.4" stroke-linejoin="round" stroke-dasharray="6.5 4.5"/>
<path d="M597.50 148.50 L599.37 148.20 L601.25 147.89 L603.12 147.58 L605.00 147.27 L606.87 146.96 L608.75 146.64 L610.62 146.32 L612.50 145.99 L614.37 145.66 L616.24 145.32 L618.12 144.99 L619.99 144.67 L621.87 144.38 L623.74 144.12 L625.62 143.90 L627.49 143.74 L629.37 143.65 L631.24 143.63 L633.11 143.68 L634.99 143.82 L636.86 144.04 L638.74 144.32 L640.61 144.68 L642.49 145.10 L644.36 145.59 L646.24 146.14 L648.11 146.75 L649.98 147.41 L651.86 148.13 L653.73 148.89 L655.61 149.68 L657.48 150.45 L659.36 151.14 L661.23 151.70 L663.11 152.10 L664.98 152.27 L666.85 152.23 L668.73 152.00 L670.60 151.61 L672.48 151.09 L674.35 150.46 L676.23 149.75 L678.10 149.00 L679.97 148.23 L681.85 147.47 L683.72 146.74 L685.60 146.06 L687.47 145.46 L689.35 144.95 L691.22 144.57 L693.10 144.34 L694.97 144.27 L696.84 144.38 L698.72 144.66 L700.59 145.07 L702.47 145.60 L704.34 146.21 L706.22 146.88 L708.09 147.58 L709.97 148.29 L711.84 148.98 L713.71 149.63 L715.59 150.22 L717.46 150.73 L719.34 151.15 L721.21 151.45 L723.09 151.61 L724.96 151.62 L726.84 151.47 L728.71 151.17 L730.58 150.73 L732.46 150.19 L734.33 149.55 L736.21 148.85 L738.08 148.08 L739.96 147.30 L741.83 146.52 L743.71 145.79 L745.58 145.15 L747.45 144.63 L749.33 144.26 L751.20 144.09 L753.08 144.14 L754.95 144.38 L756.83 144.80 L758.70 145.34 L760.58 145.98 L762.45 146.68 L764.32 147.41 L766.20 148.14 L768.07 148.82 L769.95 149.44 L771.82 150.00 L773.70 150.48 L775.57 150.89 L777.45 151.21 L779.32 151.45 L781.19 151.59 L783.07 151.63 L784.94 151.56 L786.82 151.40 L788.69 151.15 L790.57 150.81 L792.44 150.39 L794.32 149.90 L796.19 149.33 L798.06 148.71 L799.94 148.02 L801.81 147.31 L803.69 146.59 L805.56 145.90 L807.44 145.28 L809.31 144.76 L811.18 144.36 L813.06 144.13 L814.93 144.09 L816.81 144.26 L818.68 144.59 L820.56 145.07 L822.43 145.65 L824.31 146.31 L826.18 147.02 L828.05 147.73 L829.93 148.43 L831.80 149.08 L833.68 149.67 L835.55 150.20 L837.43 150.65 L839.30 151.02 L841.18 151.31 L843.05 151.51 L844.92 151.62 L846.80 151.61 L848.67 151.51 L850.55 151.31 L852.42 151.02 L854.30 150.65 L856.17 150.20 L858.05 149.67 L859.92 149.08 L861.79 148.43 L863.67 147.72 L865.54 147.00 L867.42 146.29 L869.29 145.63 L871.17 145.05 L873.04 144.57 L874.92 144.24 L876.79 144.09 L878.66 144.14 L880.54 144.38 L882.41 144.78 L884.29 145.30 L886.16 145.92 L888.04 146.60 L889.91 147.32 L891.79 148.03 L893.66 148.71 L895.53 149.34 L897.41 149.90 L899.28 150.40 L901.16 150.82 L903.03 151.16 L904.91 151.41 L906.78 151.57 L908.66 151.63 L910.53 151.58 L912.40 151.44 L914.28 151.20 L916.15 150.88 L918.03 150.47 L919.90 149.98 L921.78 149.43 L923.65 148.81 L925.53 148.13 L927.40 147.42 L929.27 146.70 L931.15 146.01 L933.02 145.37 L934.90 144.83 L936.77 144.41 L938.65 144.15 L940.52 144.09 L942.39 144.22 L944.27 144.54 L946.14 145.00 L948.02 145.57 L949.89 146.22 L951.77 146.92 L953.64 147.63 L955.52 148.33 L957.39 148.97 L959.26 149.56 L961.14 150.08 L963.01 150.53 L964.89 150.91 L966.76 151.21 L968.64 151.44 L970.51 151.58 L972.39 151.63 L974.26 151.59 L976.13 151.46 L978.01 151.25 L979.88 150.96 L981.76 150.58 L983.63 150.13 L985.51 149.60 L987.38 149.01 L989.26 148.35 L991.13 147.64 L993.00 146.90 L994.88 146.18 L996.75 145.50 L998.63 144.90 L1000.50 144.41 L1002.38 144.07 L1004.25 143.91 L1006.13 143.94 L1008.00 144.08" fill="none" stroke="#267d37" stroke-width="2.4" stroke-linejoin="round"/>
<path d="M597.50 148.50 L599.37 148.17 L601.25 147.84 L603.12 147.50 L605.00 147.15 L606.87 146.79 L608.75 146.42 L610.62 146.03 L612.50 145.61 L614.37 145.17 L616.24 144.71 L618.12 144.24 L619.99 143.78 L621.87 143.35 L623.74 142.95 L625.62 142.60 L627.49 142.33 L629.37 142.13 L631.24 142.04 L633.11 142.06 L634.99 142.21 L636.86 142.47 L638.74 142.85 L640.61 143.32 L642.49 143.89 L644.36 144.53 L646.24 145.24 L648.11 146.01 L649.98 146.82 L651.86 147.68 L653.73 148.56 L655.61 149.46 L657.48 150.35 L659.36 151.21 L661.23 152.02 L663.11 152.75 L664.98 153.37 L666.85 153.86 L668.73 154.21 L670.60 154.38 L672.48 154.35 L674.35 154.12 L676.23 153.71 L678.10 153.15 L679.97 152.45 L681.85 151.64 L683.72 150.72 L685.60 149.74 L687.47 148.69 L689.35 147.61 L691.22 146.52 L693.10 145.44 L694.97 144.40 L696.84 143.41 L698.72 142.51 L700.59 141.71 L702.47 141.04 L704.34 140.52 L706.22 140.18 L708.09 140.04 L709.97 140.11 L711.84 140.40 L713.71 140.88 L715.59 141.51 L717.46 142.29 L719.34 143.17 L721.21 144.14 L723.09 145.18 L724.96 146.25 L726.84 147.34 L728.71 148.42 L730.58 149.46 L732.46 150.45 L734.33 151.38 L736.21 152.24 L738.08 153.02 L739.96 153.71 L741.83 154.30 L743.71 154.77 L745.58 155.12 L747.45 155.33 L749.33 155.40 L751.20 155.31 L753.08 155.08 L754.95 154.70 L756.83 154.19 L758.70 153.55 L760.58 152.80 L762.45 151.94 L764.32 150.98 L766.20 149.93 L768.07 148.80 L769.95 147.59 L771.82 146.34 L773.70 145.08 L775.57 143.86 L777.45 142.72 L779.32 141.69 L781.19 140.81 L783.07 140.12 L784.94 139.67 L786.82 139.48 L788.69 139.60 L790.57 139.99 L792.44 140.62 L794.32 141.45 L796.19 142.44 L798.06 143.56 L799.94 144.77 L801.81 146.03 L803.69 147.30 L805.56 148.55 L807.44 149.74 L809.31 150.86 L811.18 151.90 L813.06 152.85 L814.93 153.69 L816.81 154.41 L818.68 155.00 L820.56 155.45 L822.43 155.75 L824.31 155.88 L826.18 155.84 L828.05 155.65 L829.93 155.31 L831.80 154.83 L833.68 154.23 L835.55 153.51 L837.43 152.69 L839.30 151.79 L841.18 150.80 L843.05 149.75 L844.92 148.65 L846.80 147.50 L848.67 146.33 L850.55 145.17 L852.42 144.05 L854.30 142.99 L856.17 142.02 L858.05 141.16 L859.92 140.45 L861.79 139.92 L863.67 139.58 L865.54 139.46 L867.42 139.60 L869.29 139.98 L871.17 140.57 L873.04 141.35 L874.92 142.28 L876.79 143.33 L878.66 144.47 L880.54 145.67 L882.41 146.90 L884.29 148.14 L886.16 149.34 L888.04 150.49 L889.91 151.57 L891.79 152.56 L893.66 153.46 L895.53 154.24 L897.41 154.88 L899.28 155.38 L901.16 155.71 L903.03 155.86 L904.91 155.81 L906.78 155.56 L908.66 155.14 L910.53 154.54 L912.40 153.81 L914.28 152.94 L916.15 151.96 L918.03 150.88 L919.90 149.73 L921.78 148.51 L923.65 147.26 L925.53 145.99 L927.40 144.75 L929.27 143.56 L931.15 142.46 L933.02 141.49 L934.90 140.67 L936.77 140.04 L938.65 139.63 L940.52 139.47 L942.39 139.59 L944.27 139.96 L946.14 140.53 L948.02 141.29 L949.89 142.20 L951.77 143.24 L953.64 144.36 L955.52 145.54 L957.39 146.75 L959.26 147.96 L961.14 149.14 L963.01 150.27 L964.89 151.32 L966.76 152.30 L968.64 153.19 L970.51 153.97 L972.39 154.64 L974.26 155.18 L976.13 155.58 L978.01 155.83 L979.88 155.91 L981.76 155.81 L983.63 155.53 L985.51 155.10 L987.38 154.52 L989.26 153.83 L991.13 153.05 L993.00 152.19 L994.88 151.27 L996.75 150.32 L998.63 149.37 L1000.50 148.42 L1002.38 147.49 L1004.25 146.59 L1006.13 145.70 L1008.00 144.82" fill="none" stroke="#267d37" stroke-width="2.4" stroke-linejoin="round" stroke-dasharray="6.5 4.5"/>
<path d="M597.50 148.50 L599.37 147.92 L601.25 147.05 L603.12 145.60 L605.00 143.35 L606.87 140.36 L608.75 136.76 L610.62 132.64 L612.50 128.09 L614.37 123.20 L616.24 118.03 L618.12 112.67 L619.99 107.19 L621.87 101.66 L623.74 96.17 L625.62 90.83 L627.49 85.77 L629.37 81.09 L631.24 76.92 L633.11 73.32 L634.99 70.26 L636.86 67.67 L638.74 65.50 L640.61 63.69 L642.49 62.20 L644.36 60.98 L646.24 59.97 L648.11 59.14 L649.98 58.52 L651.86 58.19 L653.73 58.22 L655.61 58.69 L657.48 59.63 L659.36 61.01 L661.23 62.84 L663.11 65.01 L664.98 67.37 L666.85 69.76 L668.73 72.05 L670.60 74.24 L672.48 76.31 L674.35 78.26 L676.23 80.08 L678.10 81.74 L679.97 83.25 L681.85 84.60 L683.72 85.77 L685.60 86.79 L687.47 87.66 L689.35 88.40 L691.22 89.04 L693.10 89.57 L694.97 90.02 L696.84 90.39 L698.72 90.65 L700.59 90.80 L702.47 90.83 L704.34 90.72 L706.22 90.48 L708.09 90.13 L709.97 89.67 L711.84 89.11 L713.71 88.46 L715.59 87.73 L717.46 86.94 L719.34 86.10 L721.21 85.21 L723.09 84.28 L724.96 83.33 L726.84 82.37 L728.71 81.40 L730.58 80.43 L732.46 79.49 L734.33 78.57 L736.21 77.68 L738.08 76.84 L739.96 76.04 L741.83 75.30 L743.71 74.60 L745.58 73.97 L747.45 73.40 L749.33 72.90 L751.20 72.47 L753.08 72.12 L754.95 71.85 L756.83 71.66 L758.70 71.57 L760.58 71.57 L762.45 71.65 L764.32 71.80 L766.20 72.01 L768.07 72.27 L769.95 72.57 L771.82 72.89 L773.70 73.22 L775.57 73.55 L777.45 73.88 L779.32 74.20 L781.19 74.51 L783.07 74.80 L784.94 75.07 L786.82 75.33 L788.69 75.57 L790.57 75.78 L792.44 75.97 L794.32 76.14 L796.19 76.27 L798.06 76.38 L799.94 76.45 L801.81 76.48 L803.69 76.49 L805.56 76.46 L807.44 76.40 L809.31 76.32 L811.18 76.22 L813.06 76.09 L814.93 75.95 L816.81 75.79 L818.68 75.62 L820.56 75.43 L822.43 75.24 L824.31 75.05 L826.18 74.85 L828.05 74.65 L829.93 74.46 L831.80 74.27 L833.68 74.09 L835.55 73.91 L837.43 73.74 L839.30 73.57 L841.18 73.41 L843.05 73.25 L844.92 73.10 L846.80 72.95 L848.67 72.81 L850.55 72.67 L852.42 72.54 L854.30 72.41 L856.17 72.29 L858.05 72.17 L859.92 72.05 L861.79 71.94 L863.67 71.83 L865.54 71.72 L867.42 71.62 L869.29 71.53 L871.17 71.43 L873.04 71.34 L874.92 71.25 L876.79 71.17 L878.66 71.08 L880.54 71.01 L882.41 70.93 L884.29 70.85 L886.16 70.78 L888.04 70.71 L889.91 70.65 L891.79 70.58 L893.66 70.52 L895.53 70.46 L897.41 70.40 L899.28 70.34 L901.16 70.28 L903.03 70.23 L904.91 70.18 L906.78 70.12 L908.66 70.07 L910.53 70.02 L912.40 69.97 L914.28 69.93 L916.15 69.88 L918.03 69.83 L919.90 69.78 L921.78 69.74 L923.65 69.69 L925.53 69.64 L927.40 69.60 L929.27 69.55 L931.15 69.50 L933.02 69.46 L934.90 69.41 L936.77 69.36 L938.65 69.31 L940.52 69.26 L942.39 69.21 L944.27 69.16 L946.14 69.11 L948.02 69.06 L949.89 69.00 L951.77 68.95 L953.64 68.89 L955.52 68.84 L957.39 68.78 L959.26 68.72 L961.14 68.66 L963.01 68.60 L964.89 68.55 L966.76 68.49 L968.64 68.43 L970.51 68.36 L972.39 68.30 L974.26 68.24 L976.13 68.18 L978.01 68.12 L979.88 68.05 L981.76 67.99 L983.63 67.93 L985.51 67.86 L987.38 67.80 L989.26 67.73 L991.13 67.67 L993.00 67.60 L994.88 67.54 L996.75 67.47 L998.63 67.41 L1000.50 67.34 L1002.38 67.28 L1004.25 67.21 L1006.13 67.15 L1008.00 67.08" fill="none" stroke="#1c50a8" stroke-width="2.4" stroke-linejoin="round" stroke-dasharray="6.5 4.5"/>
<path d="M597.50 148.50 L599.37 147.98 L601.25 147.29 L603.12 146.24 L605.00 144.66 L606.87 142.47 L608.75 139.73 L610.62 136.53 L612.50 132.92 L614.37 128.98 L616.24 124.78 L618.12 120.38 L619.99 115.83 L621.87 111.22 L623.74 106.59 L625.62 102.01 L627.49 97.53 L629.37 93.15 L631.24 88.86 L633.11 84.63 L634.99 80.46 L636.86 76.33 L638.74 72.25 L640.61 68.28 L642.49 64.52 L644.36 61.07 L646.24 58.02 L648.11 55.48 L649.98 53.46 L651.86 51.89 L653.73 50.69 L655.61 49.78 L657.48 49.10 L659.36 48.65 L661.23 48.42 L663.11 48.41 L664.98 48.61 L666.85 48.98 L668.73 49.49 L670.60 50.11 L672.48 50.80 L674.35 51.53 L676.23 52.28 L678.10 53.09 L679.97 53.99 L681.85 55.03 L683.72 56.26 L685.60 57.70 L687.47 59.33 L689.35 61.10 L691.22 62.95 L693.10 64.85 L694.97 66.74 L696.84 68.56 L698.72 70.27 L700.59 71.82 L702.47 73.22 L704.34 74.46 L706.22 75.55 L708.09 76.50 L709.97 77.30 L711.84 77.97 L713.71 78.50 L715.59 78.87 L717.46 79.09 L719.34 79.13 L721.21 79.02 L723.09 78.75 L724.96 78.33 L726.84 77.77 L728.71 77.09 L730.58 76.30 L732.46 75.39 L734.33 74.39 L736.21 73.32 L738.08 72.18 L739.96 71.00 L741.83 69.78 L743.71 68.56 L745.58 67.35 L747.45 66.15 L749.33 64.99 L751.20 63.87 L753.08 62.80 L754.95 61.80 L756.83 60.88 L758.70 60.05 L760.58 59.32 L762.45 58.68 L764.32 58.14 L766.20 57.67 L768.07 57.27 L769.95 56.92 L771.82 56.62 L773.70 56.36 L775.57 56.12 L777.45 55.92 L779.32 55.77 L781.19 55.66 L783.07 55.59 L784.94 55.58 L786.82 55.62 L788.69 55.71 L790.57 55.84 L792.44 56.01 L794.32 56.21 L796.19 56.44 L798.06 56.69 L799.94 56.95 L801.81 57.22 L803.69 57.50 L805.56 57.79 L807.44 58.07 L809.31 58.36 L811.18 58.64 L813.06 58.91 L814.93 59.18 L816.81 59.43 L818.68 59.66 L820.56 59.88 L822.43 60.07 L824.31 60.25 L826.18 60.39 L828.05 60.51 L829.93 60.60 L831.80 60.65 L833.68 60.67 L835.55 60.65 L837.43 60.59 L839.30 60.50 L841.18 60.37 L843.05 60.21 L844.92 60.02 L846.80 59.81 L848.67 59.59 L850.55 59.35 L852.42 59.11 L854.30 58.86 L856.17 58.61 L858.05 58.37 L859.92 58.13 L861.79 57.90 L863.67 57.68 L865.54 57.47 L867.42 57.28 L869.29 57.11 L871.17 56.96 L873.04 56.83 L874.92 56.72 L876.79 56.63 L878.66 56.56 L880.54 56.51 L882.41 56.47 L884.29 56.44 L886.16 56.43 L888.04 56.42 L889.91 56.43 L891.79 56.44 L893.66 56.45 L895.53 56.47 L897.41 56.49 L899.28 56.51 L901.16 56.53 L903.03 56.54 L904.91 56.56 L906.78 56.58 L908.66 56.59 L910.53 56.60 L912.40 56.62 L914.28 56.63 L916.15 56.64 L918.03 56.65 L919.90 56.66 L921.78 56.67 L923.65 56.68 L925.53 56.69 L927.40 56.69 L929.27 56.70 L931.15 56.70 L933.02 56.71 L934.90 56.71 L936.77 56.71 L938.65 56.72 L940.52 56.72 L942.39 56.72 L944.27 56.72 L946.14 56.72 L948.02 56.72 L949.89 56.72 L951.77 56.71 L953.64 56.71 L955.52 56.71 L957.39 56.71 L959.26 56.70 L961.14 56.70 L963.01 56.69 L964.89 56.69 L966.76 56.68 L968.64 56.68 L970.51 56.67 L972.39 56.67 L974.26 56.66 L976.13 56.65 L978.01 56.64 L979.88 56.64 L981.76 56.63 L983.63 56.62 L985.51 56.61 L987.38 56.60 L989.26 56.59 L991.13 56.59 L993.00 56.58 L994.88 56.57 L996.75 56.56 L998.63 56.55 L1000.50 56.54 L1002.38 56.53 L1004.25 56.52 L1006.13 56.51 L1008.00 56.50" fill="none" stroke="#1c50a8" stroke-width="2.4" stroke-linejoin="round"/>
<path d="M597.50 148.50 L599.37 144.57 L601.25 139.44 L603.12 131.93 L605.00 121.74 L606.87 109.87 L608.75 97.40 L610.62 85.14 L612.50 73.53 L614.37 63.01 L616.24 54.00 L618.12 46.68 L619.99 41.12 L621.87 37.32 L623.74 35.09 L625.62 34.25 L627.49 34.60 L629.37 35.96 L631.24 38.13 L633.11 40.92 L634.99 44.15 L636.86 47.62 L638.74 51.13 L640.61 54.49 L642.49 57.50 L644.36 60.04 L646.24 62.15 L648.11 63.85 L649.98 65.15 L651.86 66.05 L653.73 66.54 L655.61 66.60 L657.48 66.25 L659.36 65.61 L661.23 64.82 L663.11 64.00 L664.98 63.24 L666.85 62.53 L668.73 61.87 L670.60 61.25 L672.48 60.68 L674.35 60.15 L676.23 59.66 L678.10 59.22 L679.97 58.84 L681.85 58.51 L683.72 58.26 L685.60 58.07 L687.47 57.93 L689.35 57.83 L691.22 57.77 L693.10 57.73 L694.97 57.71 L696.84 57.70 L698.72 57.69 L700.59 57.67 L702.47 57.65 L704.34 57.63 L706.22 57.61 L708.09 57.58 L709.97 57.55 L711.84 57.53 L713.71 57.49 L715.59 57.46 L717.46 57.43 L719.34 57.40 L721.21 57.36 L723.09 57.33 L724.96 57.30 L726.84 57.26 L728.71 57.23 L730.58 57.20 L732.46 57.17 L734.33 57.14 L736.21 57.12 L738.08 57.09 L739.96 57.07 L741.83 57.05 L743.71 57.03 L745.58 57.01 L747.45 57.00 L749.33 56.98 L751.20 56.97 L753.08 56.96 L754.95 56.95 L756.83 56.94 L758.70 56.93 L760.58 56.92 L762.45 56.91 L764.32 56.91 L766.20 56.90 L768.07 56.90 L769.95 56.89 L771.82 56.89 L773.70 56.89 L775.57 56.88 L777.45 56.88 L779.32 56.88 L781.19 56.88 L783.07 56.87 L784.94 56.87 L786.82 56.87 L788.69 56.87 L790.57 56.87 L792.44 56.86 L794.32 56.86 L796.19 56.86 L798.06 56.86 L799.94 56.85 L801.81 56.85 L803.69 56.85 L805.56 56.84 L807.44 56.84 L809.31 56.84 L811.18 56.83 L813.06 56.83 L814.93 56.82 L816.81 56.82 L818.68 56.82 L820.56 56.81 L822.43 56.81 L824.31 56.80 L826.18 56.80 L828.05 56.79 L829.93 56.79 L831.80 56.78 L833.68 56.78 L835.55 56.78 L837.43 56.77 L839.30 56.77 L841.18 56.76 L843.05 56.76 L844.92 56.75 L846.80 56.75 L848.67 56.74 L850.55 56.74 L852.42 56.73 L854.30 56.73 L856.17 56.72 L858.05 56.72 L859.92 56.71 L861.79 56.71 L863.67 56.70 L865.54 56.70 L867.42 56.69 L869.29 56.69 L871.17 56.68 L873.04 56.68 L874.92 56.68 L876.79 56.67 L878.66 56.67 L880.54 56.66 L882.41 56.66 L884.29 56.65 L886.16 56.65 L888.04 56.65 L889.91 56.64 L891.79 56.64 L893.66 56.64 L895.53 56.63 L897.41 56.63 L899.28 56.63 L901.16 56.62 L903.03 56.62 L904.91 56.62 L906.78 56.61 L908.66 56.61 L910.53 56.61 L912.40 56.60 L914.28 56.60 L916.15 56.60 L918.03 56.60 L919.90 56.59 L921.78 56.59 L923.65 56.59 L925.53 56.58 L927.40 56.58 L929.27 56.58 L931.15 56.58 L933.02 56.57 L934.90 56.57 L936.77 56.57 L938.65 56.57 L940.52 56.56 L942.39 56.56 L944.27 56.56 L946.14 56.56 L948.02 56.56 L949.89 56.55 L951.77 56.55 L953.64 56.55 L955.52 56.55 L957.39 56.55 L959.26 56.54 L961.14 56.54 L963.01 56.54 L964.89 56.54 L966.76 56.54 L968.64 56.53 L970.51 56.53 L972.39 56.53 L974.26 56.53 L976.13 56.53 L978.01 56.53 L979.88 56.52 L981.76 56.52 L983.63 56.52 L985.51 56.52 L987.38 56.52 L989.26 56.52 L991.13 56.51 L993.00 56.51 L994.88 56.51 L996.75 56.51 L998.63 56.51 L1000.50 56.51 L1002.38 56.50 L1004.25 56.50 L1006.13 56.50 L1008.00 56.50" fill="none" stroke="#93409a" stroke-width="2.4" stroke-linejoin="round" stroke-dasharray="6.5 4.5"/>
<path d="M597.50 148.50 L599.37 142.14 L601.25 129.73 L603.12 111.05 L605.00 91.06 L606.87 72.87 L608.75 56.51 L610.62 42.03 L612.50 30.52 L614.37 23.12 L616.24 19.67 L618.12 19.44 L619.99 21.88 L621.87 26.81 L623.74 34.07 L625.62 42.91 L627.49 51.84 L629.37 59.35 L631.24 64.65 L633.11 67.82 L634.99 69.16 L636.86 69.12 L638.74 68.08 L640.61 66.40 L642.49 64.40 L644.36 62.29 L646.24 60.16 L648.11 58.10 L649.98 56.22 L651.86 54.59 L653.73 53.31 L655.61 52.44 L657.48 52.08 L659.36 52.26 L661.23 52.86 L663.11 53.75 L664.98 54.77 L666.85 55.78 L668.73 56.64 L670.60 57.25 L672.48 57.64 L674.35 57.83 L676.23 57.88 L678.10 57.81 L679.97 57.66 L681.85 57.44 L683.72 57.20 L685.60 56.95 L687.47 56.72 L689.35 56.54 L691.22 56.41 L693.10 56.32 L694.97 56.27 L696.84 56.25 L698.72 56.26 L700.59 56.29 L702.47 56.34 L704.34 56.40 L706.22 56.47 L708.09 56.54 L709.97 56.61 L711.84 56.68 L713.71 56.74 L715.59 56.80 L717.46 56.87 L719.34 56.93 L721.21 56.99 L723.09 57.05 L724.96 57.10 L726.84 57.16 L728.71 57.22 L730.58 57.27 L732.46 57.32 L734.33 57.38 L736.21 57.43 L738.08 57.47 L739.96 57.52 L741.83 57.57 L743.71 57.62 L745.58 57.66 L747.45 57.70 L749.33 57.75 L751.20 57.79 L753.08 57.83 L754.95 57.87 L756.83 57.91 L758.70 57.94 L760.58 57.98 L762.45 58.01 L764.32 58.05 L766.20 58.08 L768.07 58.11 L769.95 58.14 L771.82 58.17 L773.70 58.20 L775.57 58.23 L777.45 58.26 L779.32 58.28 L781.19 58.31 L783.07 58.33 L784.94 58.35 L786.82 58.38 L788.69 58.40 L790.57 58.42 L792.44 58.44 L794.32 58.45 L796.19 58.47 L798.06 58.49 L799.94 58.50 L801.81 58.52 L803.69 58.53 L805.56 58.54 L807.44 58.55 L809.31 58.57 L811.18 58.58 L813.06 58.59 L814.93 58.59 L816.81 58.60 L818.68 58.61 L820.56 58.61 L822.43 58.62 L824.31 58.62 L826.18 58.63 L828.05 58.63 L829.93 58.63 L831.80 58.63 L833.68 58.63 L835.55 58.63 L837.43 58.63 L839.30 58.63 L841.18 58.63 L843.05 58.63 L844.92 58.62 L846.80 58.62 L848.67 58.61 L850.55 58.61 L852.42 58.60 L854.30 58.59 L856.17 58.59 L858.05 58.58 L859.92 58.57 L861.79 58.56 L863.67 58.55 L865.54 58.54 L867.42 58.53 L869.29 58.51 L871.17 58.50 L873.04 58.49 L874.92 58.47 L876.79 58.46 L878.66 58.44 L880.54 58.43 L882.41 58.41 L884.29 58.39 L886.16 58.38 L888.04 58.36 L889.91 58.34 L891.79 58.32 L893.66 58.30 L895.53 58.28 L897.41 58.26 L899.28 58.24 L901.16 58.22 L903.03 58.20 L904.91 58.18 L906.78 58.15 L908.66 58.13 L910.53 58.11 L912.40 58.08 L914.28 58.06 L916.15 58.03 L918.03 58.01 L919.90 57.98 L921.78 57.96 L923.65 57.93 L925.53 57.91 L927.40 57.88 L929.27 57.85 L931.15 57.82 L933.02 57.80 L934.90 57.77 L936.77 57.74 L938.65 57.71 L940.52 57.68 L942.39 57.65 L944.27 57.62 L946.14 57.59 L948.02 57.56 L949.89 57.53 L951.77 57.50 L953.64 57.47 L955.52 57.44 L957.39 57.41 L959.26 57.37 L961.14 57.34 L963.01 57.31 L964.89 57.28 L966.76 57.25 L968.64 57.21 L970.51 57.18 L972.39 57.15 L974.26 57.11 L976.13 57.08 L978.01 57.05 L979.88 57.01 L981.76 56.98 L983.63 56.95 L985.51 56.91 L987.38 56.88 L989.26 56.84 L991.13 56.81 L993.00 56.78 L994.88 56.74 L996.75 56.71 L998.63 56.67 L1000.50 56.64 L1002.38 56.60 L1004.25 56.57 L1006.13 56.53 L1008.00 56.50" fill="none" stroke="#93409a" stroke-width="2.4" stroke-linejoin="round"/>
<path d="M597.50 148.50 L599.37 145.93 L601.25 142.73 L603.12 138.99 L605.00 134.81 L606.87 129.56 L608.75 123.15 L610.62 116.23 L612.50 109.47 L614.37 103.52 L616.24 98.51 L618.12 93.68 L619.99 89.07 L621.87 84.79 L623.74 80.94 L625.62 77.60 L627.49 74.83 L629.37 72.40 L631.24 70.27 L633.11 68.52 L634.99 67.19 L636.86 66.05 L638.74 65.04 L640.61 64.25 L642.49 63.75 L644.36 63.50 L646.24 63.32 L648.11 63.18 L649.98 63.07 L651.86 62.96 L653.73 62.86 L655.61 62.78 L657.48 62.70 L659.36 62.63 L661.23 62.54 L663.11 62.43 L664.98 62.28 L666.85 62.11 L668.73 61.93 L670.60 61.75 L672.48 61.60 L674.35 61.47 L676.23 61.36 L678.10 61.24 L679.97 61.13 L681.85 61.02 L683.72 60.92 L685.60 60.82 L687.47 60.73 L689.35 60.64 L691.22 60.57 L693.10 60.50 L694.97 60.43 L696.84 60.38 L698.72 60.33 L700.59 60.29 L702.47 60.25 L704.34 60.21 L706.22 60.17 L708.09 60.14 L709.97 60.10 L711.84 60.07 L713.71 60.04 L715.59 60.01 L717.46 59.99 L719.34 59.96 L721.21 59.94 L723.09 59.91 L724.96 59.89 L726.84 59.87 L728.71 59.84 L730.58 59.82 L732.46 59.79 L734.33 59.77 L736.21 59.75 L738.08 59.72 L739.96 59.69 L741.83 59.67 L743.71 59.64 L745.58 59.61 L747.45 59.58 L749.33 59.55 L751.20 59.52 L753.08 59.49 L754.95 59.46 L756.83 59.42 L758.70 59.39 L760.58 59.36 L762.45 59.33 L764.32 59.29 L766.20 59.26 L768.07 59.23 L769.95 59.19 L771.82 59.16 L773.70 59.13 L775.57 59.10 L777.45 59.07 L779.32 59.04 L781.19 59.01 L783.07 58.98 L784.94 58.95 L786.82 58.92 L788.69 58.89 L790.57 58.86 L792.44 58.84 L794.32 58.81 L796.19 58.79 L798.06 58.76 L799.94 58.74 L801.81 58.72 L803.69 58.70 L805.56 58.68 L807.44 58.66 L809.31 58.64 L811.18 58.62 L813.06 58.61 L814.93 58.59 L816.81 58.57 L818.68 58.56 L820.56 58.54 L822.43 58.53 L824.31 58.51 L826.18 58.50 L828.05 58.48 L829.93 58.47 L831.80 58.45 L833.68 58.44 L835.55 58.43 L837.43 58.41 L839.30 58.40 L841.18 58.39 L843.05 58.37 L844.92 58.36 L846.80 58.35 L848.67 58.33 L850.55 58.32 L852.42 58.31 L854.30 58.29 L856.17 58.28 L858.05 58.26 L859.92 58.25 L861.79 58.24 L863.67 58.22 L865.54 58.20 L867.42 58.19 L869.29 58.17 L871.17 58.16 L873.04 58.14 L874.92 58.12 L876.79 58.10 L878.66 58.09 L880.54 58.07 L882.41 58.05 L884.29 58.03 L886.16 58.01 L888.04 57.99 L889.91 57.97 L891.79 57.95 L893.66 57.93 L895.53 57.91 L897.41 57.89 L899.28 57.87 L901.16 57.85 L903.03 57.83 L904.91 57.81 L906.78 57.79 L908.66 57.77 L910.53 57.75 L912.40 57.73 L914.28 57.71 L916.15 57.70 L918.03 57.68 L919.90 57.66 L921.78 57.64 L923.65 57.62 L925.53 57.61 L927.40 57.59 L929.27 57.57 L931.15 57.56 L933.02 57.54 L934.90 57.52 L936.77 57.51 L938.65 57.49 L940.52 57.48 L942.39 57.46 L944.27 57.44 L946.14 57.43 L948.02 57.41 L949.89 57.40 L951.77 57.38 L953.64 57.37 L955.52 57.35 L957.39 57.33 L959.26 57.32 L961.14 57.30 L963.01 57.29 L964.89 57.27 L966.76 57.26 L968.64 57.24 L970.51 57.23 L972.39 57.21 L974.26 57.20 L976.13 57.19 L978.01 57.17 L979.88 57.16 L981.76 57.14 L983.63 57.13 L985.51 57.12 L987.38 57.10 L989.26 57.09 L991.13 57.08 L993.00 57.06 L994.88 57.05 L996.75 57.04 L998.63 57.02 L1000.50 57.01 L1002.38 57.00 L1004.25 56.98 L1006.13 56.97 L1008.00 56.96" fill="none" stroke="#ed2024" stroke-width="2.4" stroke-linejoin="round" stroke-dasharray="6.5 4.5"/>
<path d="M597.50 148.50 L599.37 145.33 L601.25 142.09 L603.12 138.78 L605.00 135.37 L606.87 131.79 L608.75 127.99 L610.62 124.04 L612.50 120.03 L614.37 116.05 L616.24 112.17 L618.12 108.50 L619.99 105.10 L621.87 102.06 L623.74 99.32 L625.62 96.78 L627.49 94.42 L629.37 92.20 L631.24 90.08 L633.11 87.96 L634.99 85.86 L636.86 83.83 L638.74 81.89 L640.61 80.08 L642.49 78.43 L644.36 76.99 L646.24 75.78 L648.11 74.76 L649.98 73.80 L651.86 72.91 L653.73 72.08 L655.61 71.31 L657.48 70.59 L659.36 69.94 L661.23 69.33 L663.11 68.78 L664.98 68.28 L666.85 67.82 L668.73 67.40 L670.60 66.99 L672.48 66.60 L674.35 66.23 L676.23 65.88 L678.10 65.54 L679.97 65.22 L681.85 64.92 L683.72 64.63 L685.60 64.36 L687.47 64.11 L689.35 63.87 L691.22 63.65 L693.10 63.45 L694.97 63.27 L696.84 63.10 L698.72 62.94 L700.59 62.79 L702.47 62.65 L704.34 62.52 L706.22 62.39 L708.09 62.27 L709.97 62.15 L711.84 62.03 L713.71 61.93 L715.59 61.82 L717.46 61.72 L719.34 61.63 L721.21 61.53 L723.09 61.44 L724.96 61.36 L726.84 61.27 L728.71 61.19 L730.58 61.10 L732.46 61.02 L734.33 60.94 L736.21 60.86 L738.08 60.78 L739.96 60.71 L741.83 60.64 L743.71 60.57 L745.58 60.51 L747.45 60.44 L749.33 60.38 L751.20 60.31 L753.08 60.25 L754.95 60.19 L756.83 60.12 L758.70 60.05 L760.58 59.98 L762.45 59.92 L764.32 59.85 L766.20 59.77 L768.07 59.70 L769.95 59.63 L771.82 59.56 L773.70 59.49 L775.57 59.42 L777.45 59.34 L779.32 59.27 L781.19 59.20 L783.07 59.13 L784.94 59.06 L786.82 58.99 L788.69 58.93 L790.57 58.86 L792.44 58.80 L794.32 58.73 L796.19 58.67 L798.06 58.61 L799.94 58.56 L801.81 58.50 L803.69 58.45 L805.56 58.40 L807.44 58.35 L809.31 58.30 L811.18 58.26 L813.06 58.22 L814.93 58.18 L816.81 58.15 L818.68 58.12 L820.56 58.09 L822.43 58.06 L824.31 58.03 L826.18 58.00 L828.05 57.97 L829.93 57.94 L831.80 57.92 L833.68 57.89 L835.55 57.87 L837.43 57.84 L839.30 57.82 L841.18 57.80 L843.05 57.77 L844.92 57.75 L846.80 57.73 L848.67 57.71 L850.55 57.69 L852.42 57.67 L854.30 57.65 L856.17 57.64 L858.05 57.62 L859.92 57.60 L861.79 57.59 L863.67 57.57 L865.54 57.55 L867.42 57.54 L869.29 57.53 L871.17 57.51 L873.04 57.50 L874.92 57.49 L876.79 57.47 L878.66 57.46 L880.54 57.45 L882.41 57.43 L884.29 57.42 L886.16 57.41 L888.04 57.39 L889.91 57.38 L891.79 57.37 L893.66 57.35 L895.53 57.34 L897.41 57.33 L899.28 57.31 L901.16 57.30 L903.03 57.29 L904.91 57.28 L906.78 57.26 L908.66 57.25 L910.53 57.24 L912.40 57.23 L914.28 57.22 L916.15 57.20 L918.03 57.19 L919.90 57.18 L921.78 57.17 L923.65 57.16 L925.53 57.15 L927.40 57.14 L929.27 57.12 L931.15 57.11 L933.02 57.10 L934.90 57.09 L936.77 57.08 L938.65 57.07 L940.52 57.06 L942.39 57.05 L944.27 57.04 L946.14 57.03 L948.02 57.02 L949.89 57.02 L951.77 57.01 L953.64 57.00 L955.52 56.99 L957.39 56.98 L959.26 56.97 L961.14 56.97 L963.01 56.96 L964.89 56.95 L966.76 56.95 L968.64 56.94 L970.51 56.93 L972.39 56.93 L974.26 56.92 L976.13 56.92 L978.01 56.91 L979.88 56.91 L981.76 56.90 L983.63 56.90 L985.51 56.89 L987.38 56.89 L989.26 56.89 L991.13 56.88 L993.00 56.88 L994.88 56.88 L996.75 56.87 L998.63 56.87 L1000.50 56.87 L1002.38 56.87 L1004.25 56.87 L1006.13 56.87 L1008.00 56.87" fill="none" stroke="#ed2024" stroke-width="2.4" stroke-linejoin="round"/>
<path d="M597.50 56.50 L1008.00 56.50" fill="none" stroke="#ed2024" stroke-width="2.4" stroke-linejoin="round" stroke-dasharray="2 2.1" stroke-dashoffset="-1.3"/>
<path d="M597.50 148.50 L1008.00 148.50" fill="none" stroke="#ed2024" stroke-width="2.4" stroke-linejoin="round" stroke-dasharray="2 2.1" stroke-dashoffset="-1.3"/>
</g>
<rect x="62.5" y="266.5" width="410.5" height="184.10000000000002" fill="none" stroke="#5e5a5a" stroke-width="1.1"/>
<path d="M165.12 450.6v-4M165.12 266.5v4M267.75 450.6v-4M267.75 266.5v4M370.38 450.6v-4M370.38 266.5v4M62.5 404.58h4M473.0 404.58h-4M62.5 358.55h4M473.0 358.55h-4M62.5 312.52h4M473.0 312.52h-4" stroke="#5e5a5a" stroke-width="1" fill="none"/>
<text transform="translate(62.50 469.1) scale(0.96 1)" text-anchor="middle">0</text>
<text transform="translate(165.12 469.1) scale(0.96 1)" text-anchor="middle">50</text>
<text transform="translate(267.75 469.1) scale(0.96 1)" text-anchor="middle">100</text>
<text transform="translate(370.38 469.1) scale(0.96 1)" text-anchor="middle">150</text>
<text transform="translate(473.00 469.1) scale(0.96 1)" text-anchor="middle">200</text>
<text transform="translate(56.8 457.30) scale(0.96 1)" text-anchor="end">−0.5</text>
<text transform="translate(56.8 411.28) scale(0.96 1)" text-anchor="end">0</text>
<text transform="translate(56.8 365.25) scale(0.96 1)" text-anchor="end">0.5</text>
<text transform="translate(56.8 319.22) scale(0.96 1)" text-anchor="end">1</text>
<text transform="translate(56.8 273.20) scale(0.96 1)" text-anchor="end">1.5</text>
<text transform="translate(266.75 485.90000000000003) scale(0.96 1)" text-anchor="middle">Run</text>
<clipPath id="c10"><rect x="61.5" y="266.0" width="412.0" height="185.10000000000002"/></clipPath><g clip-path="url(#c10)">
<path d="M83.64 266.50 L83.64 450.60" fill="none" stroke="#111" stroke-width="1.7" stroke-linejoin="round" stroke-dasharray="2.0 2.15"/>
<path d="M62.50 404.58 L473.00 404.58" fill="none" stroke="#231f20" stroke-width="2.4" stroke-linejoin="round" stroke-dasharray="6.6 5.7"/>
<path d="M62.50 312.71 L64.14 316.39 L66.81 317.50 L72.97 317.50 L74.81 310.32 L76.87 325.32 L79.13 324.68 L80.56 325.96 L82.61 325.69 L85.08 336.27 L93.49 335.81 L96.98 350.63 L99.65 361.59 L101.09 366.37 L105.19 370.06 L107.66 362.69 L109.50 368.40 L111.76 369.50 L113.61 365.91 L116.07 365.91 L117.92 369.78 L119.97 365.64 L122.84 367.75 L126.33 369.78 L128.80 368.40 L132.49 371.16 L136.60 372.27 L142.14 372.54 L161.23 373.19 L163.28 371.81 L165.33 373.19 L172.10 373.46 L180.31 374.93 L183.80 374.93 L185.65 371.16 L187.70 373.65 L191.19 373.92 L194.68 375.49 L200.02 375.49 L263.44 376.32 L303.05 376.68 L305.11 376.59 L306.75 375.12 L308.80 374.66 L310.85 375.12 L312.90 376.68 L335.07 376.96 L396.44 377.24 L430.72 379.02 L434.00 378.89 L435.85 376.68 L438.93 379.72 L445.70 379.02 L473.00 379.72" fill="none" stroke="#1c50a8" stroke-width="2.45" stroke-linejoin="round"/>
</g>
<path d="M86.72500000000001 276.2H108.025" stroke="#000" stroke-width="2" fill="none"/>
<path d="M113.825 276.2L105.325 271.7L107.825 276.2L105.325 280.7z" fill="#000"/>
<text transform="translate(95.825 304.1) scale(0.84 1)" font-size="17.7" fill="#1a1a1a">SCFO</text>
<rect x="597.5" y="266.5" width="410.5" height="184.10000000000002" fill="none" stroke="#5e5a5a" stroke-width="1.1"/>
<path d="M700.12 450.6v-4M700.12 266.5v4M802.75 450.6v-4M802.75 266.5v4M905.38 450.6v-4M905.38 266.5v4M597.5 404.58h4M1008.0 404.58h-4M597.5 358.55h4M1008.0 358.55h-4M597.5 312.52h4M1008.0 312.52h-4" stroke="#5e5a5a" stroke-width="1" fill="none"/>
<text transform="translate(597.50 469.1) scale(0.96 1)" text-anchor="middle">0</text>
<text transform="translate(700.12 469.1) scale(0.96 1)" text-anchor="middle">50</text>
<text transform="translate(802.75 469.1) scale(0.96 1)" text-anchor="middle">100</text>
<text transform="translate(905.38 469.1) scale(0.96 1)" text-anchor="middle">150</text>
<text transform="translate(1008.00 469.1) scale(0.96 1)" text-anchor="middle">200</text>
<text transform="translate(591.8 457.30) scale(0.96 1)" text-anchor="end">−0.5</text>
<text transform="translate(591.8 411.28) scale(0.96 1)" text-anchor="end">0</text>
<text transform="translate(591.8 365.25) scale(0.96 1)" text-anchor="end">0.5</text>
<text transform="translate(591.8 319.22) scale(0.96 1)" text-anchor="end">1</text>
<text transform="translate(591.8 273.20) scale(0.96 1)" text-anchor="end">1.5</text>
<text transform="translate(801.75 485.90000000000003) scale(0.96 1)" text-anchor="middle">Run</text>
<clipPath id="c11"><rect x="596.5" y="266.0" width="412.0" height="185.10000000000002"/></clipPath><g clip-path="url(#c11)">
<path d="M618.64 266.50 L618.64 450.60" fill="none" stroke="#111" stroke-width="1.7" stroke-linejoin="round" stroke-dasharray="2.0 2.15"/>
<path d="M597.50 404.58 L1008.00 404.58" fill="none" stroke="#231f20" stroke-width="2.4" stroke-linejoin="round" stroke-dasharray="6.6 5.7"/>
<path d="M597.50 312.71 L600.17 317.13 L603.66 316.67 L607.35 315.65 L609.61 308.75 L611.87 308.75 L615.56 307.55 L617.61 308.29 L619.87 313.45 L632.39 314.64 L634.45 321.45 L638.96 333.97 L642.65 342.99 L644.71 341.98 L646.97 333.97 L648.81 323.39 L650.66 330.29 L652.71 351.55 L654.97 363.98 L656.82 363.98 L659.08 369.78 L662.97 373.46 L665.23 372.73 L667.08 355.88 L669.13 340.51 L671.18 348.61 L673.24 355.88 L675.29 344.47 L677.34 360.30 L679.19 371.99 L681.45 373.46 L683.50 367.66 L685.76 364.72 L688.02 366.93 L690.89 362.51 L693.35 366.93 L695.40 361.77 L697.46 367.66 L699.71 367.29 L703.20 372.27 L705.05 371.07 L707.92 367.57 L710.18 361.13 L712.23 360.76 L713.88 371.07 L716.75 372.27 L719.01 376.96 L722.50 375.21 L724.96 378.06 L727.83 376.96 L730.30 378.34 L732.55 374.57 L736.04 375.21 L738.92 376.96 L742.00 377.51 L744.87 379.91 L747.13 375.21 L748.97 379.26 L751.85 379.54 L755.34 378.06 L758.83 377.51 L761.29 376.32 L764.78 378.06 L767.04 376.32 L770.53 376.96 L774.22 377.51 L779.97 376.32 L782.84 379.26 L785.92 373.46 L789.41 375.21 L792.90 374.57 L797.62 375.76 L804.60 375.76 L808.09 376.96 L810.96 375.21 L813.42 376.32 L817.53 374.57 L819.99 376.32 L822.86 375.21 L825.94 376.96 L829.43 374.38 L832.92 376.32 L836.41 378.71 L839.28 380.46 L841.75 376.96 L844.01 382.21 L847.49 379.26 L851.60 376.96 L856.32 375.49 L860.43 374.01 L863.91 371.07 L866.38 376.32 L868.22 366.37 L870.28 371.62 L872.12 373.46 L873.97 376.96 L876.23 375.21 L879.72 376.32 L882.59 355.24 L884.44 373.46 L886.90 376.32 L889.78 381.38 L891.42 376.96 L893.27 372.82 L895.52 376.96 L898.60 379.91 L900.86 381.01 L903.12 377.51 L906.20 379.91 L908.45 378.06 L909.69 368.77 L911.53 284.54 L913.79 382.21 L917.28 381.01 L919.33 371.07 L921.38 371.07 L923.64 379.26 L925.49 376.32 L927.75 379.91 L930.83 378.06 L933.70 374.01 L936.57 376.32 L941.09 378.06 L943.96 371.07 L946.22 377.51 L948.68 376.96 L951.56 379.91 L955.05 379.26 L956.89 377.51 L959.15 381.01 L962.64 382.21 L965.72 376.96 L968.59 373.46 L970.85 375.21 L973.93 374.57 L977.42 376.32 L980.91 380.46 L983.78 382.76 L987.27 380.46 L990.14 382.76 L993.84 382.21 L997.33 378.06 L1000.20 382.21 L1003.07 382.21 L1008.00 379.91" fill="none" stroke="#1c50a8" stroke-width="2.5" stroke-linejoin="round"/>
<path d="M597.50 313.45 L599.35 317.86 L601.61 317.13 L603.86 315.65 L605.92 318.60 L607.76 325.14 L609.61 314.18 L611.87 306.08 L613.92 307.55 L617.00 307.28 L618.44 309.76 L620.08 318.60 L622.13 311.97 L623.98 302.49 L626.03 317.13 L628.08 316.39 L630.13 309.03 L631.57 317.86 L634.45 329.55 L638.96 338.30 L644.09 347.14 L646.14 338.30 L648.81 326.61 L650.66 333.97 L652.71 354.41 L654.97 369.04 L657.23 364.72 L659.49 373.46 L661.13 374.93 L663.80 370.52 L666.05 369.78 L667.49 354.41 L669.13 341.24 L671.18 348.61 L673.24 369.04 L675.29 353.03 L677.34 363.24 L679.60 376.41 L681.45 383.77 L683.50 371.99 L685.76 366.19 L688.02 369.04 L690.07 358.83 L691.50 369.78 L693.35 363.98 L695.40 370.52 L697.46 366.19 L699.71 359.56 L701.36 369.04 L704.02 378.62 L706.28 370.52 L709.16 367.66 L710.18 356.99 L712.23 348.24 L713.47 364.07 L714.90 374.57 L716.75 375.21 L719.01 371.07 L720.86 375.76 L722.50 379.26 L724.75 388.65 L726.19 381.01 L728.45 375.76 L730.30 374.01 L732.55 376.96 L734.81 378.06 L737.28 374.01 L739.53 376.96 L742.41 381.01 L745.49 373.46 L747.13 379.26 L750.21 375.21 L753.08 378.06 L756.57 374.01 L759.24 372.82 L762.52 378.06 L765.39 382.76 L768.27 374.57 L771.76 381.65 L775.25 374.57 L778.74 381.65 L781.20 376.96 L784.69 380.46 L786.95 375.21 L789.41 374.57 L792.28 371.07 L794.75 378.06 L797.00 382.76 L798.85 373.46 L801.11 369.87 L803.98 379.26 L806.65 363.43 L807.88 374.57 L809.32 380.46 L812.19 372.27 L815.27 368.12 L818.14 378.06 L819.99 374.01 L822.25 381.65 L825.33 372.82 L827.59 376.96 L830.05 375.21 L834.15 378.06 L837.03 375.21 L839.69 382.76 L841.75 378.06 L843.39 379.26 L846.26 381.65 L850.37 379.26 L854.06 376.96 L855.70 383.40 L856.94 374.57 L858.17 368.12 L861.66 372.27 L865.15 378.06 L868.02 361.68 L870.07 376.96 L872.54 364.07 L874.18 375.21 L877.46 378.06 L880.33 381.01 L882.59 364.07 L885.06 373.46 L889.16 376.96 L892.65 376.32 L896.14 371.62 L899.63 377.51 L903.12 378.06 L906.81 379.26 L909.07 374.57 L911.53 284.54 L913.79 379.26 L917.28 378.06 L919.33 371.62 L921.38 372.27 L923.23 384.32 L925.69 375.21 L927.95 383.96 L929.80 374.01 L931.85 380.46 L933.90 369.87 L936.98 371.62 L940.47 378.06 L944.37 366.93 L946.84 378.06 L950.94 372.27 L953.81 376.96 L956.89 376.96 L959.77 383.40 L962.64 385.70 L965.72 376.96 L968.59 369.87 L970.85 372.27 L972.90 366.37 L974.95 377.51 L977.42 373.46 L979.68 380.46 L980.91 391.04 L982.55 382.76 L985.01 380.46 L986.86 372.27 L988.91 378.06 L990.76 386.35 L993.84 388.10 L997.33 379.26 L999.79 381.65 L1002.05 388.10 L1003.69 379.26 L1008.00 380.46" fill="none" stroke="#6ec33c" stroke-width="2.6" stroke-linejoin="round" stroke-dasharray="4.2 3.4"/>
</g>
<path d="M621.725 276.2H643.025" stroke="#000" stroke-width="2" fill="none"/>
<path d="M648.8249999999999 276.2L640.3249999999999 271.7L642.8249999999999 276.2L640.3249999999999 280.7z" fill="#000"/>
<text transform="translate(630.8249999999999 304.1) scale(0.84 1)" font-size="17.7" fill="#1a1a1a">SCFO</text>
<rect x="62.5" y="526.9" width="410.5" height="184.0" fill="none" stroke="#5e5a5a" stroke-width="1.1"/>
<path d="M165.12 710.9v-4M165.12 526.9v4M267.75 710.9v-4M267.75 526.9v4M370.38 710.9v-4M370.38 526.9v4M62.5 680.23h4M473.0 680.23h-4M62.5 618.90h4M473.0 618.90h-4M62.5 557.57h4M473.0 557.57h-4" stroke="#5e5a5a" stroke-width="1" fill="none"/>
<text transform="translate(62.50 729.4) scale(0.96 1)" text-anchor="middle">0</text>
<text transform="translate(165.12 729.4) scale(0.96 1)" text-anchor="middle">50</text>
<text transform="translate(267.75 729.4) scale(0.96 1)" text-anchor="middle">100</text>
<text transform="translate(370.38 729.4) scale(0.96 1)" text-anchor="middle">150</text>
<text transform="translate(473.00 729.4) scale(0.96 1)" text-anchor="middle">200</text>
<text transform="translate(56.8 686.93) scale(0.96 1)" text-anchor="end">1</text>
<text transform="translate(56.8 625.60) scale(0.96 1)" text-anchor="end">1.2</text>
<text transform="translate(56.8 564.27) scale(0.96 1)" text-anchor="end">1.4</text>
<text transform="translate(266.75 746.1999999999999) scale(0.96 1)" text-anchor="middle">Run</text>
<clipPath id="c20"><rect x="61.5" y="526.4" width="412.0" height="185.0"/></clipPath><g clip-path="url(#c20)">
<path d="M62.50 681.46 L64.55 675.76 L72.76 675.76 L74.81 677.78 L76.87 673.06 L83.03 673.49 L85.28 665.51 L93.08 665.21 L95.34 655.09 L97.60 645.43 L99.65 639.85 L101.50 629.48 L103.34 611.91 L105.40 600.81 L107.66 579.19 L109.50 614.30 L111.35 591.91 L113.40 587.93 L115.87 588.85 L117.71 611.91 L119.76 587.19 L123.05 593.57 L125.51 596.82 L128.39 601.54 L130.23 611.91 L132.08 608.78 L134.13 611.11 L136.60 616.75 L138.24 613.50 L140.70 614.30 L142.55 616.23 L144.60 613.84 L147.06 615.83 L148.91 617.98 L150.96 621.05 L153.02 617.52 L155.07 618.29 L160.20 617.83 L162.87 607.92 L165.12 617.83 L169.02 617.83 L171.28 612.25 L173.75 617.52 L176.21 618.29 L179.29 616.45 L181.54 619.91 L183.80 616.75 L185.65 598.84 L187.70 603.14 L190.17 603.14 L192.22 606.33 L194.48 617.98 L200.02 618.13 L208.02 617.49 L216.23 618.44 L218.28 620.22 L224.44 620.74 L229.16 619.82 L230.60 618.16 L232.65 620.22 L240.04 620.43 L242.91 622.95 L244.97 618.90 L251.12 619.51 L253.18 617.49 L255.23 621.17 L262.00 621.17 L263.44 622.58 L265.49 621.17 L271.65 622.12 L277.81 622.58 L279.86 616.66 L281.91 619.82 L283.96 620.22 L286.02 616.45 L288.07 620.22 L292.17 620.74 L296.28 622.12 L301.00 621.66 L303.05 623.19 L305.72 628.71 L308.59 631.17 L311.06 630.06 L312.90 622.89 L320.91 622.58 L322.96 623.50 L326.25 622.12 L330.35 622.58 L335.07 623.19 L341.85 622.58 L348.62 623.19 L355.60 622.58 L360.32 621.66 L362.17 617.06 L364.01 621.17 L366.48 621.97 L376.12 621.17 L380.23 620.74 L382.48 624.85 L384.95 619.82 L389.67 618.44 L397.88 617.49 L403.42 618.90 L408.76 620.43 L411.22 622.58 L413.27 616.66 L416.35 616.66 L420.46 619.21 L423.95 622.89 L428.05 625.65 L431.33 625.95 L433.80 621.17 L435.85 651.25 L437.90 618.44 L440.37 617.67 L442.42 622.58 L446.52 620.43 L451.24 621.17 L458.02 622.89 L463.56 623.19 L467.05 624.60 L473.00 624.60" fill="none" stroke="#1c50a8" stroke-width="2.5" stroke-linejoin="round"/>
<path d="M62.50 618.90 L473.00 618.90" fill="none" stroke="#231f20" stroke-width="2.0" stroke-linejoin="round"/>
</g>
<rect x="597.5" y="526.9" width="410.5" height="184.0" fill="none" stroke="#5e5a5a" stroke-width="1.1"/>
<path d="M700.12 710.9v-4M700.12 526.9v4M802.75 710.9v-4M802.75 526.9v4M905.38 710.9v-4M905.38 526.9v4M597.5 680.23h4M1008.0 680.23h-4M597.5 618.90h4M1008.0 618.90h-4M597.5 557.57h4M1008.0 557.57h-4" stroke="#5e5a5a" stroke-width="1" fill="none"/>
<text transform="translate(597.50 729.4) scale(0.96 1)" text-anchor="middle">0</text>
<text transform="translate(700.12 729.4) scale(0.96 1)" text-anchor="middle">50</text>
<text transform="translate(802.75 729.4) scale(0.96 1)" text-anchor="middle">100</text>
<text transform="translate(905.38 729.4) scale(0.96 1)" text-anchor="middle">150</text>
<text transform="translate(1008.00 729.4) scale(0.96 1)" text-anchor="middle">200</text>
<text transform="translate(591.8 686.93) scale(0.96 1)" text-anchor="end">1</text>
<text transform="translate(591.8 625.60) scale(0.96 1)" text-anchor="end">1.2</text>
<text transform="translate(591.8 564.27) scale(0.96 1)" text-anchor="end">1.4</text>
<text transform="translate(801.75 746.1999999999999) scale(0.96 1)" text-anchor="middle">Run</text>
<clipPath id="c21"><rect x="596.5" y="526.4" width="412.0" height="185.0"/></clipPath><g clip-path="url(#c21)">
<path d="M597.50 681.46 L599.55 676.25 L607.35 675.76 L609.61 678.09 L617.61 678.09 L620.28 675.76 L624.39 675.63 L630.13 676.55 L632.39 675.02 L634.65 671.03 L638.34 666.43 L640.60 667.66 L642.45 656.93 L645.94 645.27 L648.61 636.69 L650.87 649.08 L654.97 624.88 L657.23 643.86 L659.08 626.57 L661.33 625.34 L662.77 611.85 L665.03 598.20 L667.28 564.31 L669.13 546.68 L671.18 552.97 L673.24 571.55 L675.50 548.06 L677.55 571.06 L679.39 605.01 L681.45 627.61 L683.71 637.76 L685.35 642.82 L687.60 637.76 L689.86 640.37 L691.71 639.45 L693.76 630.98 L695.81 633.93 L697.87 621.35 L699.92 626.01 L702.18 610.07 L704.23 591.45 L706.28 581.06 L708.13 577.75 L710.18 558.33 L712.03 558.85 L714.29 595.84 L716.34 583.02 L718.60 613.81 L720.44 603.17 L722.50 629.76 L724.75 618.04 L726.60 598.97 L728.86 624.42 L730.91 614.42 L732.97 635.15 L735.02 633.31 L737.07 633.62 L738.92 625.49 L740.97 624.42 L743.23 613.07 L745.07 622.27 L747.23 651.10 L749.38 629.76 L751.03 630.86 L753.28 608.47 L755.34 618.69 L756.98 607.43 L759.65 617.06 L761.70 607.43 L763.55 637.91 L765.60 631.87 L767.65 607.43 L769.70 612.77 L771.96 619.21 L774.01 626.14 L775.86 629.76 L777.91 636.13 L779.97 636.78 L782.23 627.64 L784.28 633.01 L786.12 645.70 L788.18 642.51 L790.23 636.13 L792.28 641.90 L794.33 642.08 L796.59 621.23 L798.44 631.26 L800.70 632.30 L802.75 630.86 L804.60 629.76 L806.86 610.62 L808.70 628.71 L810.75 634.02 L812.81 628.10 L814.86 632.30 L817.12 634.02 L819.17 634.66 L820.81 631.87 L823.07 635.09 L825.12 633.01 L827.17 632.30 L829.02 648.95 L831.07 648.34 L833.13 646.35 L835.38 642.08 L837.44 649.97 L839.49 644.05 L841.54 660.18 L843.39 652.11 L845.44 657.42 L847.70 656.77 L849.75 660.61 L851.80 663.37 L854.06 665.94 L856.12 669.19 L858.37 671.34 L860.43 672.75 L862.07 671.89 L864.33 678.70 L866.17 672.26 L868.22 691.89 L870.48 674.41 L872.33 680.85 L874.18 674.41 L876.43 675.94 L878.49 675.08 L880.54 674.41 L882.59 694.65 L884.64 679.74 L886.49 676.55 L888.75 654.23 L890.80 644.66 L893.06 667.66 L894.91 656.31 L896.96 648.95 L899.01 636.13 L900.86 632.39 L903.32 653.25 L905.58 645.70 L907.22 641.47 L909.27 640.83 L911.53 662.14 L913.17 631.87 L915.23 630.86 L917.48 611.66 L919.33 581.89 L921.38 581.89 L923.64 627.64 L925.69 645.70 L927.54 627.64 L929.59 618.04 L931.65 614.91 L933.90 646.81 L935.96 612.77 L938.01 626.57 L940.06 612.77 L942.11 597.83 L943.96 574.00 L946.12 604.18 L948.17 609.24 L950.12 634.02 L952.17 617.06 L954.22 622.27 L956.28 644.66 L958.53 627.64 L960.38 635.15 L962.43 614.91 L964.69 605.41 L966.74 591.45 L968.59 586.79 L970.85 591.45 L972.70 591.45 L974.75 590.38 L977.01 593.60 L979.06 598.97 L981.32 612.77 L983.37 621.35 L985.01 629.33 L987.27 649.57 L989.32 629.76 L991.37 631.87 L993.63 638.22 L995.68 646.81 L997.53 656.99 L999.79 647.85 L1002.46 640.37 L1005.74 631.47 L1008.00 653.25" fill="none" stroke="#1c50a8" stroke-width="2.5" stroke-linejoin="round"/>
<path d="M597.50 618.90 L1008.00 618.90" fill="none" stroke="#231f20" stroke-width="2.0" stroke-linejoin="round"/>
</g>
<text transform="translate(18.6 96) rotate(-90) scale(0.96 1)" text-anchor="middle">(t)</text>
<text transform="translate(19.8 365.5) rotate(-90) scale(0.96 1)" text-anchor="middle">Scaled Performance</text>
<text transform="translate(22.2 624) rotate(-90) scale(0.96 1)" text-anchor="middle">Maximum Value of y<tspan font-size="9.5" dy="4">1</tspan><tspan dy="-4"> (t)</tspan></text>
<text x="125.2" y="32.4" font-family="'Liberation Serif', serif" font-size="19" fill="#1a1a1a"><tspan font-style="italic">y</tspan><tspan font-size="11.5" dy="7">1</tspan><tspan dy="-7" dx="0.3" font-size="21.5">(</tspan><tspan dx="1.5" font-style="italic">t</tspan>,<tspan dx="2.3" font-style="italic" font-weight="bold">ρ</tspan><tspan font-size="11.5" dy="5" dx="0.3">200</tspan><tspan dy="-5" dx="1.3" font-size="21.5">)</tspan></text>
<text x="298.5" y="91.3" font-family="'Liberation Serif', serif" font-size="19" fill="#1a1a1a"><tspan font-style="italic">y</tspan><tspan font-size="11.5" dy="7">1</tspan><tspan dy="-7" dx="0.3" font-size="21.5">(</tspan><tspan dx="1.5" font-style="italic">t</tspan>,<tspan dx="2.3" font-style="italic" font-weight="bold">ρ</tspan><tspan font-size="11.5" dy="5" dx="0.3">0</tspan><tspan dy="-5" dx="1.3" font-size="21.5">)</tspan></text>
<text x="661.4" y="35.2" font-family="'Liberation Serif', serif" font-size="19" fill="#1a1a1a"><tspan font-style="italic">y</tspan><tspan font-size="11.5" dy="7">1</tspan><tspan dy="-7" dx="0.3" font-size="21.5">(</tspan><tspan dx="1.5" font-style="italic">t</tspan>,<tspan dx="2.3" font-style="italic" font-weight="bold">ρ</tspan><tspan font-size="11.5" dy="5" dx="0.3">200</tspan><tspan dy="-5" dx="1.3" font-size="21.5">)</tspan></text>
<text x="838" y="91" font-family="'Liberation Serif', serif" font-size="19" fill="#1a1a1a"><tspan font-style="italic">y</tspan><tspan font-size="11.5" dy="7">1</tspan><tspan dy="-7" dx="0.3" font-size="21.5">(</tspan><tspan dx="1.5" font-style="italic">t</tspan>,<tspan dx="2.3" font-style="italic" font-weight="bold">ρ</tspan><tspan font-size="11.5" dy="5" dx="0.3">0</tspan><tspan dy="-5" dx="1.3" font-size="21.5">)</tspan></text>
</svg>
</body></html>
